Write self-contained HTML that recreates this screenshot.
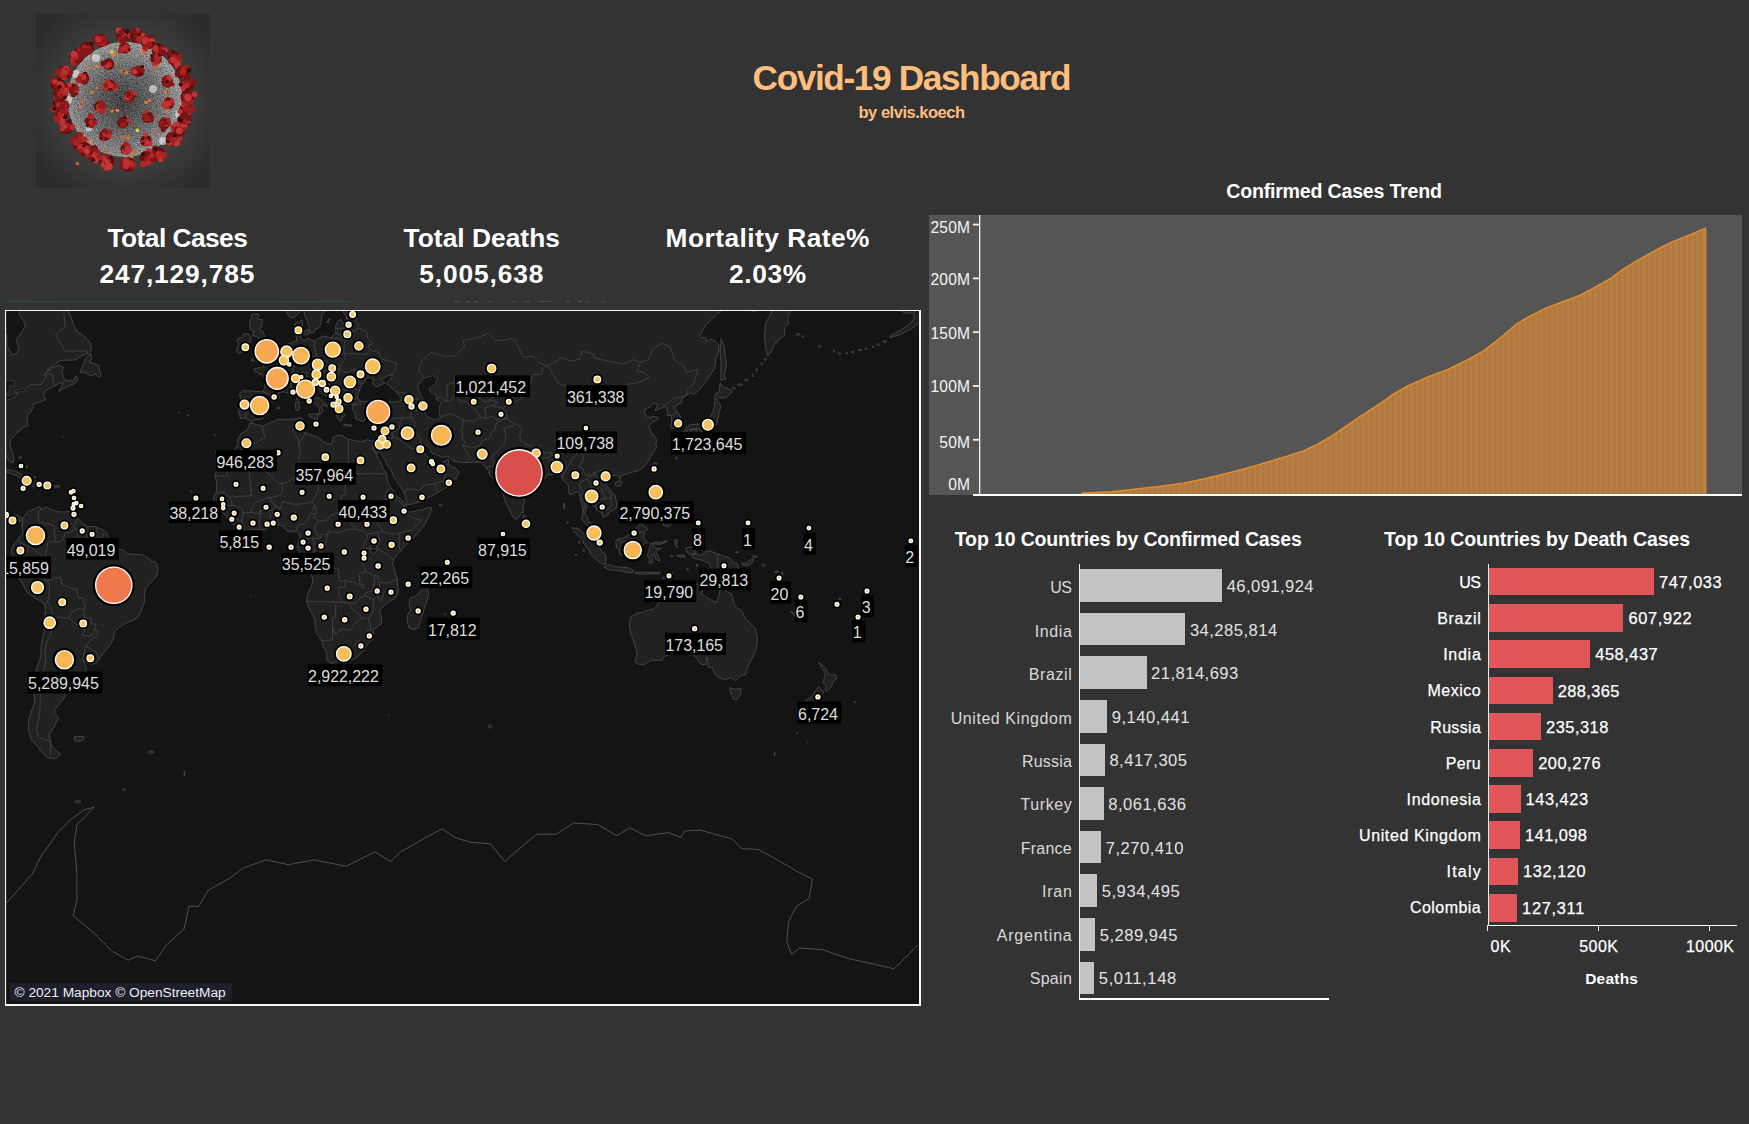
<!DOCTYPE html>
<html lang="en"><head><meta charset="utf-8"><title>Covid-19 Dashboard</title>
<style>
html,body{margin:0;padding:0;background:#333333;}
body{width:1749px;height:1124px;position:relative;overflow:hidden;font-family:"Liberation Sans",sans-serif;color:#fff;}
.t{position:absolute;white-space:nowrap;margin:0;padding:0;}
svg{position:absolute;display:block;}
.hr1{position:absolute;left:5px;top:301px;width:346px;height:1px;}
.dashes i{position:absolute;top:301px;height:1px;background:#4d4d4d;display:block;}
.hr1{background:linear-gradient(90deg,#2f4850,#30482f 30%,#30482f 60%,#2f4850);}
</style></head><body>

<svg id="logo" style="left:36px;top:14px" width="174" height="174" viewBox="0 0 174 174">
<defs>
<radialGradient id="lbg" cx="0.51" cy="0.5" r="0.62"><stop offset="0" stop-color="#4a4846"/><stop offset="0.55" stop-color="#413f3e"/><stop offset="0.8" stop-color="#343434"/><stop offset="1" stop-color="#2b2b2b"/></radialGradient>
<radialGradient id="lsp" cx="0.48" cy="0.52" r="0.55"><stop offset="0" stop-color="#3a3a3a"/><stop offset="0.45" stop-color="#646464"/><stop offset="0.8" stop-color="#8e8e8e"/><stop offset="1" stop-color="#b0b0b0"/></radialGradient>
<filter id="grain" x="0" y="0" width="1" height="1"><feTurbulence type="fractalNoise" baseFrequency="0.85" numOctaves="2" seed="3" result="n"/><feColorMatrix in="n" type="matrix" values="0 0 0 0 1  0 0 0 0 1  0 0 0 0 1  1.6 0 0 0 -0.62"/><feComposite in2="SourceGraphic" operator="in"/></filter>
<filter id="grain2" x="0" y="0" width="1" height="1"><feTurbulence type="fractalNoise" baseFrequency="0.7" numOctaves="2" seed="11" result="n"/><feColorMatrix in="n" type="matrix" values="0 0 0 0 0  0 0 0 0 0  0 0 0 0 0  0 1.8 0 0 -0.72"/><feComposite in2="SourceGraphic" operator="in"/></filter>
<filter id="soft"><feGaussianBlur stdDeviation="0.45"/></filter>
</defs>
<rect width="174" height="174" fill="url(#lbg)"/>
<g filter="url(#soft)">
<circle cx="89" cy="85.5" r="57.5" fill="url(#lsp)"/>
<circle cx="89" cy="85.5" r="57" fill="#fff" filter="url(#grain)" opacity="0.38"/>
<circle cx="89" cy="85.5" r="57" fill="#000" filter="url(#grain2)" opacity="0.55"/>
<circle cx="117" cy="75" r="4" fill="#ededed" opacity="0.6"/>
<circle cx="32" cy="86" r="4" fill="#ededed" opacity="0.6"/>
<circle cx="53" cy="114" r="3.5" fill="#ededed" opacity="0.6"/>
<circle cx="127" cy="127" r="4" fill="#ededed" opacity="0.6"/>
<circle cx="144" cy="100" r="5" fill="#ededed" opacity="0.6"/>
<circle cx="40" cy="60" r="4" fill="#ededed" opacity="0.6"/>
<circle cx="60" cy="44" r="4" fill="#ededed" opacity="0.6"/>
<rect x="53.2" y="32.6" width="3.2" height="2.8" rx="0.8" fill="#f08038"/>
<rect x="51.4" y="52.2" width="3.2" height="2.8" rx="0.8" fill="#e8702e"/>
<rect x="59.4" y="51.3" width="3.2" height="2.8" rx="0.8" fill="#f08038"/>
<rect x="83.4" y="54.9" width="3.2" height="2.8" rx="0.8" fill="#d9602a"/>
<rect x="88.7" y="57.6" width="3.2" height="2.8" rx="0.8" fill="#e8702e"/>
<rect x="104.7" y="36.2" width="3.2" height="2.8" rx="0.8" fill="#e8702e"/>
<rect x="119.0" y="52.2" width="3.2" height="2.8" rx="0.8" fill="#d9602a"/>
<rect x="140.4" y="52.2" width="3.2" height="2.8" rx="0.8" fill="#e8702e"/>
<rect x="140.4" y="57.6" width="3.2" height="2.8" rx="0.8" fill="#f08038"/>
<rect x="59.4" y="72.6" width="3.2" height="2.8" rx="0.8" fill="#d9602a"/>
<rect x="54.9" y="77.1" width="3.2" height="2.8" rx="0.8" fill="#e8702e"/>
<rect x="44.3" y="86.0" width="3.2" height="2.8" rx="0.8" fill="#d9602a"/>
<rect x="42.4" y="91.4" width="3.2" height="2.8" rx="0.8" fill="#e8702e"/>
<rect x="25.6" y="81.6" width="3.2" height="2.8" rx="0.8" fill="#e8702e"/>
<rect x="74.5" y="95.8" width="3.2" height="2.8" rx="0.8" fill="#e8702e"/>
<rect x="79.8" y="94.9" width="3.2" height="2.8" rx="0.8" fill="#f08038"/>
<rect x="108.4" y="86.9" width="3.2" height="2.8" rx="0.8" fill="#f08038"/>
<rect x="111.9" y="85.1" width="3.2" height="2.8" rx="0.8" fill="#e8702e"/>
<rect x="127.9" y="77.1" width="3.2" height="2.8" rx="0.8" fill="#e8702e"/>
<rect x="128.8" y="95.8" width="3.2" height="2.8" rx="0.8" fill="#e8702e"/>
<rect x="47.8" y="122.5" width="3.2" height="2.8" rx="0.8" fill="#d9602a"/>
<rect x="53.2" y="126.1" width="3.2" height="2.8" rx="0.8" fill="#f08038"/>
<rect x="49.6" y="132.3" width="3.2" height="2.8" rx="0.8" fill="#e8702e"/>
<rect x="85.2" y="121.6" width="3.2" height="2.8" rx="0.8" fill="#d9602a"/>
<rect x="90.5" y="122.5" width="3.2" height="2.8" rx="0.8" fill="#e8702e"/>
<rect x="94.1" y="141.2" width="3.2" height="2.8" rx="0.8" fill="#e8702e"/>
<rect x="97.6" y="136.7" width="3.2" height="2.8" rx="0.8" fill="#d9602a"/>
<rect x="69.2" y="135.8" width="3.2" height="2.8" rx="0.8" fill="#d9602a"/>
<rect x="119.0" y="117.2" width="3.2" height="2.8" rx="0.8" fill="#d9602a"/>
<rect x="30.0" y="107.4" width="3.2" height="2.8" rx="0.8" fill="#e8702e"/>
<rect x="39.8" y="148.3" width="3.2" height="2.8" rx="0.8" fill="#d9602a"/>
<rect x="107.4" y="37.6" width="3.2" height="2.8" rx="0.8" fill="#d9602a"/>
<rect x="76.4" y="39.6" width="3.2" height="2.8" rx="0.8" fill="#f08038"/>
<rect x="74.0" y="36.4" width="3.4" height="3.2" rx="0.8" fill="#e8d02e"/>
<rect x="99.7" y="114.8" width="3.4" height="3.2" rx="0.8" fill="#e8d02e"/>
<circle cx="72.5" cy="50.1" r="5.7" fill="#6a1111"/><circle cx="73.8" cy="50.5" r="2.6" fill="#b52a2a"/><circle cx="72.3" cy="50.9" r="2.0" fill="#741313"/><circle cx="68.7" cy="48.6" r="2.0" fill="#c43434"/><circle cx="70.2" cy="52.5" r="2.0" fill="#861818"/><circle cx="70.3" cy="48.1" r="1.8" fill="#3d0a0a"/><circle cx="67.1" cy="51.3" r="2.3" fill="#c43434"/><circle cx="73.7" cy="46.1" r="2.2" fill="#741313"/><circle cx="67.3" cy="49.3" r="2.8" fill="#741313"/><circle cx="72.2" cy="49.8" r="1.8" fill="#3d0a0a"/><circle cx="72.5" cy="49.2" r="2.5" fill="#861818"/><circle cx="73.0" cy="50.0" r="2.6" fill="#aa2525"/><circle cx="71.4" cy="51.9" r="2.5" fill="#bd3030"/>
<circle cx="88.6" cy="34.0" r="5.7" fill="#6a1111"/><circle cx="89.1" cy="34.2" r="2.2" fill="#9e2020"/><circle cx="92.5" cy="35.6" r="2.7" fill="#bd3030"/><circle cx="88.1" cy="36.3" r="2.7" fill="#861818"/><circle cx="90.6" cy="33.2" r="2.6" fill="#bd3030"/><circle cx="92.9" cy="35.7" r="1.4" fill="#3d0a0a"/><circle cx="84.2" cy="37.3" r="2.5" fill="#b52a2a"/><circle cx="85.5" cy="35.0" r="3.0" fill="#941c1c"/><circle cx="89.7" cy="32.7" r="2.4" fill="#aa2525"/><circle cx="87.7" cy="31.9" r="1.5" fill="#3d0a0a"/><circle cx="89.2" cy="35.2" r="2.2" fill="#bd3030"/><circle cx="89.1" cy="33.0" r="2.2" fill="#b52a2a"/><circle cx="86.7" cy="35.1" r="2.6" fill="#b52a2a"/>
<circle cx="102.8" cy="57.2" r="5.7" fill="#6a1111"/><circle cx="101.7" cy="54.3" r="2.6" fill="#861818"/><circle cx="97.8" cy="58.6" r="3.0" fill="#941c1c"/><circle cx="100.9" cy="58.6" r="2.5" fill="#941c1c"/><circle cx="103.2" cy="57.4" r="2.2" fill="#b52a2a"/><circle cx="105.6" cy="59.5" r="1.4" fill="#3d0a0a"/><circle cx="97.3" cy="55.9" r="2.6" fill="#9e2020"/><circle cx="105.4" cy="54.6" r="2.1" fill="#741313"/><circle cx="106.3" cy="56.2" r="2.5" fill="#9e2020"/><circle cx="106.3" cy="52.4" r="1.7" fill="#3d0a0a"/><circle cx="102.5" cy="58.0" r="2.8" fill="#741313"/><circle cx="98.7" cy="57.8" r="2.5" fill="#c43434"/><circle cx="105.8" cy="56.2" r="2.1" fill="#861818"/>
<circle cx="47.6" cy="64.3" r="5.7" fill="#6a1111"/><circle cx="47.7" cy="62.5" r="2.7" fill="#9e2020"/><circle cx="47.1" cy="62.8" r="2.3" fill="#b52a2a"/><circle cx="46.8" cy="65.4" r="2.5" fill="#aa2525"/><circle cx="45.2" cy="61.5" r="2.8" fill="#c43434"/><circle cx="49.3" cy="59.7" r="2.0" fill="#3d0a0a"/><circle cx="48.5" cy="67.1" r="2.8" fill="#861818"/><circle cx="48.3" cy="61.6" r="2.1" fill="#aa2525"/><circle cx="42.3" cy="66.1" r="3.1" fill="#aa2525"/><circle cx="48.1" cy="64.6" r="1.7" fill="#3d0a0a"/><circle cx="48.7" cy="67.9" r="3.0" fill="#861818"/><circle cx="43.7" cy="64.8" r="2.9" fill="#9e2020"/><circle cx="48.0" cy="63.7" r="2.4" fill="#c43434"/>
<circle cx="74.3" cy="71.4" r="5.7" fill="#6a1111"/><circle cx="73.2" cy="71.5" r="2.8" fill="#aa2525"/><circle cx="79.2" cy="74.3" r="2.8" fill="#bd3030"/><circle cx="69.7" cy="74.7" r="2.8" fill="#b52a2a"/><circle cx="74.5" cy="71.4" r="2.6" fill="#bd3030"/><circle cx="74.6" cy="70.6" r="2.0" fill="#3d0a0a"/><circle cx="73.1" cy="69.6" r="2.6" fill="#b52a2a"/><circle cx="79.1" cy="72.0" r="2.8" fill="#9e2020"/><circle cx="68.8" cy="70.5" r="2.4" fill="#c43434"/><circle cx="74.9" cy="70.3" r="1.5" fill="#3d0a0a"/><circle cx="69.7" cy="71.4" r="2.3" fill="#941c1c"/><circle cx="74.5" cy="71.1" r="2.8" fill="#bd3030"/><circle cx="71.7" cy="67.2" r="2.5" fill="#b52a2a"/>
<circle cx="93.9" cy="82.1" r="5.7" fill="#6a1111"/><circle cx="90.8" cy="81.5" r="1.9" fill="#bd3030"/><circle cx="94.5" cy="78.5" r="2.8" fill="#b52a2a"/><circle cx="95.2" cy="84.6" r="2.8" fill="#861818"/><circle cx="92.5" cy="84.9" r="2.6" fill="#9e2020"/><circle cx="94.2" cy="81.9" r="1.5" fill="#3d0a0a"/><circle cx="94.3" cy="79.1" r="2.6" fill="#9e2020"/><circle cx="90.5" cy="83.4" r="2.5" fill="#c43434"/><circle cx="92.9" cy="79.6" r="2.5" fill="#bd3030"/><circle cx="92.4" cy="82.0" r="1.8" fill="#3d0a0a"/><circle cx="98.6" cy="79.6" r="2.1" fill="#bd3030"/><circle cx="94.4" cy="82.7" r="2.4" fill="#9e2020"/><circle cx="92.7" cy="79.8" r="2.2" fill="#741313"/>
<circle cx="63.6" cy="92.8" r="5.7" fill="#6a1111"/><circle cx="64.7" cy="87.5" r="2.1" fill="#aa2525"/><circle cx="66.9" cy="96.9" r="3.1" fill="#c43434"/><circle cx="63.6" cy="92.2" r="3.0" fill="#b52a2a"/><circle cx="68.6" cy="92.5" r="2.1" fill="#941c1c"/><circle cx="66.0" cy="92.7" r="1.7" fill="#3d0a0a"/><circle cx="61.8" cy="96.7" r="1.9" fill="#bd3030"/><circle cx="63.5" cy="92.8" r="2.3" fill="#741313"/><circle cx="63.2" cy="92.8" r="3.1" fill="#c43434"/><circle cx="64.2" cy="92.7" r="1.6" fill="#3d0a0a"/><circle cx="64.5" cy="92.2" r="2.8" fill="#941c1c"/><circle cx="66.0" cy="89.5" r="3.0" fill="#941c1c"/><circle cx="66.9" cy="97.2" r="2.6" fill="#aa2525"/>
<circle cx="86.8" cy="108.8" r="5.7" fill="#6a1111"/><circle cx="87.1" cy="109.0" r="2.7" fill="#941c1c"/><circle cx="88.1" cy="107.8" r="1.9" fill="#9e2020"/><circle cx="87.0" cy="108.3" r="2.9" fill="#9e2020"/><circle cx="86.7" cy="109.5" r="1.9" fill="#941c1c"/><circle cx="88.2" cy="108.1" r="1.4" fill="#3d0a0a"/><circle cx="92.2" cy="106.6" r="2.2" fill="#b52a2a"/><circle cx="87.4" cy="110.6" r="2.3" fill="#c43434"/><circle cx="86.1" cy="111.7" r="2.1" fill="#aa2525"/><circle cx="88.8" cy="103.2" r="1.4" fill="#3d0a0a"/><circle cx="86.4" cy="105.5" r="2.1" fill="#bd3030"/><circle cx="86.9" cy="111.5" r="2.7" fill="#941c1c"/><circle cx="85.0" cy="106.1" r="3.0" fill="#741313"/>
<circle cx="111.7" cy="103.4" r="5.7" fill="#6a1111"/><circle cx="109.5" cy="98.0" r="2.3" fill="#b52a2a"/><circle cx="110.0" cy="104.6" r="2.0" fill="#b52a2a"/><circle cx="115.4" cy="103.7" r="3.0" fill="#941c1c"/><circle cx="112.0" cy="103.8" r="2.9" fill="#741313"/><circle cx="108.3" cy="101.0" r="1.4" fill="#3d0a0a"/><circle cx="113.2" cy="105.6" r="2.2" fill="#aa2525"/><circle cx="114.9" cy="102.8" r="2.2" fill="#741313"/><circle cx="111.9" cy="104.5" r="2.3" fill="#9e2020"/><circle cx="108.7" cy="103.9" r="1.5" fill="#3d0a0a"/><circle cx="115.8" cy="106.0" r="2.1" fill="#861818"/><circle cx="110.3" cy="104.5" r="2.7" fill="#9e2020"/><circle cx="109.0" cy="101.8" r="2.8" fill="#941c1c"/>
<circle cx="131.3" cy="67.9" r="5.7" fill="#6a1111"/><circle cx="131.7" cy="63.6" r="2.5" fill="#741313"/><circle cx="130.7" cy="64.1" r="2.0" fill="#941c1c"/><circle cx="130.8" cy="63.1" r="2.1" fill="#861818"/><circle cx="132.9" cy="64.8" r="3.0" fill="#c43434"/><circle cx="131.5" cy="68.0" r="1.9" fill="#3d0a0a"/><circle cx="129.4" cy="69.8" r="2.0" fill="#861818"/><circle cx="128.4" cy="65.0" r="2.5" fill="#861818"/><circle cx="130.9" cy="68.0" r="3.0" fill="#9e2020"/><circle cx="131.1" cy="67.6" r="1.9" fill="#3d0a0a"/><circle cx="133.1" cy="63.2" r="2.2" fill="#c43434"/><circle cx="131.8" cy="71.8" r="2.5" fill="#941c1c"/><circle cx="136.1" cy="70.4" r="2.2" fill="#861818"/>
<circle cx="133.0" cy="89.2" r="5.7" fill="#6a1111"/><circle cx="130.1" cy="86.6" r="2.0" fill="#b52a2a"/><circle cx="131.1" cy="92.6" r="2.7" fill="#b52a2a"/><circle cx="133.4" cy="89.2" r="2.2" fill="#9e2020"/><circle cx="131.6" cy="85.4" r="2.2" fill="#741313"/><circle cx="130.3" cy="89.8" r="1.4" fill="#3d0a0a"/><circle cx="132.8" cy="89.7" r="2.5" fill="#741313"/><circle cx="128.2" cy="90.5" r="3.1" fill="#bd3030"/><circle cx="135.3" cy="89.1" r="3.0" fill="#c43434"/><circle cx="133.5" cy="89.4" r="2.0" fill="#3d0a0a"/><circle cx="133.8" cy="89.0" r="2.9" fill="#741313"/><circle cx="136.2" cy="86.4" r="2.2" fill="#bd3030"/><circle cx="132.2" cy="89.8" r="3.0" fill="#bd3030"/>
<circle cx="69.0" cy="121.2" r="5.7" fill="#6a1111"/><circle cx="65.4" cy="123.6" r="2.4" fill="#941c1c"/><circle cx="67.0" cy="125.8" r="1.9" fill="#aa2525"/><circle cx="69.4" cy="120.6" r="3.0" fill="#861818"/><circle cx="70.4" cy="120.2" r="2.3" fill="#941c1c"/><circle cx="65.0" cy="124.5" r="1.4" fill="#3d0a0a"/><circle cx="69.2" cy="116.1" r="2.2" fill="#861818"/><circle cx="69.9" cy="119.7" r="3.0" fill="#c43434"/><circle cx="71.6" cy="120.7" r="2.3" fill="#aa2525"/><circle cx="69.6" cy="118.7" r="1.4" fill="#3d0a0a"/><circle cx="73.8" cy="118.3" r="2.6" fill="#9e2020"/><circle cx="73.2" cy="122.5" r="2.4" fill="#b52a2a"/><circle cx="67.9" cy="119.8" r="2.0" fill="#b52a2a"/>
<circle cx="109.9" cy="126.6" r="5.7" fill="#6a1111"/><circle cx="111.1" cy="128.8" r="2.2" fill="#741313"/><circle cx="109.5" cy="120.8" r="2.2" fill="#c43434"/><circle cx="108.8" cy="129.8" r="2.4" fill="#b52a2a"/><circle cx="109.6" cy="126.2" r="2.5" fill="#bd3030"/><circle cx="107.3" cy="125.8" r="1.6" fill="#3d0a0a"/><circle cx="106.9" cy="128.0" r="2.2" fill="#b52a2a"/><circle cx="109.6" cy="127.1" r="2.2" fill="#741313"/><circle cx="110.3" cy="125.5" r="1.9" fill="#941c1c"/><circle cx="106.6" cy="129.6" r="1.5" fill="#3d0a0a"/><circle cx="109.7" cy="126.9" r="2.2" fill="#aa2525"/><circle cx="112.0" cy="128.7" r="2.7" fill="#c43434"/><circle cx="114.4" cy="129.6" r="2.4" fill="#bd3030"/>
<circle cx="37.0" cy="75.0" r="5.7" fill="#6a1111"/><circle cx="35.3" cy="75.8" r="2.9" fill="#861818"/><circle cx="38.8" cy="76.8" r="2.8" fill="#bd3030"/><circle cx="39.9" cy="74.4" r="2.0" fill="#bd3030"/><circle cx="38.5" cy="74.7" r="2.0" fill="#b52a2a"/><circle cx="40.4" cy="79.8" r="1.4" fill="#3d0a0a"/><circle cx="41.0" cy="77.4" r="1.9" fill="#b52a2a"/><circle cx="37.6" cy="80.5" r="2.7" fill="#741313"/><circle cx="40.7" cy="74.1" r="2.5" fill="#941c1c"/><circle cx="36.8" cy="74.4" r="1.4" fill="#3d0a0a"/><circle cx="36.0" cy="75.9" r="2.6" fill="#861818"/><circle cx="31.2" cy="73.6" r="2.2" fill="#aa2525"/><circle cx="33.7" cy="70.8" r="2.5" fill="#c43434"/>
<circle cx="120.0" cy="45.0" r="5.7" fill="#6a1111"/><circle cx="119.8" cy="44.9" r="2.4" fill="#741313"/><circle cx="121.1" cy="45.4" r="3.0" fill="#941c1c"/><circle cx="121.2" cy="45.7" r="2.4" fill="#aa2525"/><circle cx="120.0" cy="45.2" r="2.3" fill="#941c1c"/><circle cx="118.5" cy="46.8" r="1.3" fill="#3d0a0a"/><circle cx="119.8" cy="42.0" r="2.1" fill="#c43434"/><circle cx="118.1" cy="49.6" r="2.2" fill="#c43434"/><circle cx="119.5" cy="50.3" r="2.0" fill="#bd3030"/><circle cx="115.9" cy="41.6" r="1.7" fill="#3d0a0a"/><circle cx="120.8" cy="44.7" r="2.4" fill="#c43434"/><circle cx="123.5" cy="45.5" r="2.4" fill="#861818"/><circle cx="121.1" cy="47.5" r="2.8" fill="#aa2525"/>
<circle cx="55.0" cy="108.0" r="5.7" fill="#6a1111"/><circle cx="54.4" cy="102.1" r="3.0" fill="#aa2525"/><circle cx="56.4" cy="111.6" r="2.5" fill="#bd3030"/><circle cx="58.9" cy="108.8" r="2.4" fill="#aa2525"/><circle cx="57.6" cy="107.7" r="2.0" fill="#9e2020"/><circle cx="54.6" cy="110.1" r="2.1" fill="#3d0a0a"/><circle cx="50.8" cy="106.3" r="2.4" fill="#741313"/><circle cx="56.1" cy="105.7" r="2.0" fill="#bd3030"/><circle cx="56.1" cy="111.1" r="2.4" fill="#aa2525"/><circle cx="51.5" cy="112.1" r="1.4" fill="#3d0a0a"/><circle cx="55.0" cy="111.8" r="2.4" fill="#941c1c"/><circle cx="55.4" cy="108.1" r="3.0" fill="#741313"/><circle cx="55.1" cy="108.4" r="2.6" fill="#aa2525"/>
<circle cx="128.0" cy="110.0" r="5.7" fill="#6a1111"/><circle cx="127.2" cy="115.7" r="2.6" fill="#741313"/><circle cx="127.9" cy="105.9" r="3.0" fill="#741313"/><circle cx="132.5" cy="110.1" r="3.0" fill="#9e2020"/><circle cx="129.4" cy="110.2" r="2.5" fill="#bd3030"/><circle cx="130.2" cy="109.3" r="1.5" fill="#3d0a0a"/><circle cx="128.3" cy="109.3" r="2.5" fill="#861818"/><circle cx="129.4" cy="105.8" r="2.9" fill="#b52a2a"/><circle cx="126.5" cy="108.8" r="2.3" fill="#aa2525"/><circle cx="128.8" cy="106.5" r="1.8" fill="#3d0a0a"/><circle cx="128.0" cy="108.5" r="2.0" fill="#861818"/><circle cx="124.8" cy="110.4" r="2.1" fill="#941c1c"/><circle cx="132.4" cy="106.0" r="2.2" fill="#9e2020"/>
<circle cx="90.0" cy="135.0" r="5.7" fill="#6a1111"/><circle cx="90.7" cy="137.4" r="3.1" fill="#bd3030"/><circle cx="90.4" cy="135.7" r="2.5" fill="#c43434"/><circle cx="89.9" cy="129.9" r="2.7" fill="#9e2020"/><circle cx="90.3" cy="133.3" r="2.2" fill="#741313"/><circle cx="86.9" cy="138.2" r="1.5" fill="#3d0a0a"/><circle cx="90.6" cy="136.3" r="2.2" fill="#c43434"/><circle cx="88.9" cy="137.1" r="3.1" fill="#c43434"/><circle cx="89.6" cy="134.5" r="2.5" fill="#861818"/><circle cx="92.3" cy="136.7" r="2.0" fill="#3d0a0a"/><circle cx="90.2" cy="134.9" r="2.3" fill="#9e2020"/><circle cx="93.4" cy="136.1" r="2.9" fill="#c43434"/><circle cx="92.0" cy="134.1" r="2.9" fill="#bd3030"/>
<circle cx="64.6" cy="26.6" r="7.0" fill="#6a1111"/><circle cx="60.0" cy="23.2" r="3.1" fill="#861818"/><circle cx="68.0" cy="29.3" r="3.0" fill="#c43434"/><circle cx="67.0" cy="27.2" r="2.2" fill="#741313"/><circle cx="69.8" cy="27.9" r="3.5" fill="#861818"/><circle cx="65.8" cy="23.9" r="2.7" fill="#741313"/><circle cx="64.8" cy="26.7" r="2.0" fill="#3d0a0a"/><circle cx="65.3" cy="26.9" r="2.7" fill="#b52a2a"/><circle cx="64.1" cy="26.1" r="2.3" fill="#741313"/><circle cx="62.8" cy="27.7" r="2.6" fill="#861818"/><circle cx="63.0" cy="30.5" r="2.6" fill="#941c1c"/><circle cx="70.2" cy="27.3" r="2.3" fill="#3d0a0a"/><circle cx="62.2" cy="28.5" r="3.5" fill="#941c1c"/><circle cx="67.1" cy="24.8" r="3.3" fill="#941c1c"/><circle cx="62.2" cy="25.3" r="3.3" fill="#b52a2a"/><circle cx="68.6" cy="27.0" r="3.1" fill="#941c1c"/>
<circle cx="86.9" cy="21.4" r="7.0" fill="#6a1111"/><circle cx="90.8" cy="23.8" r="2.7" fill="#b52a2a"/><circle cx="88.2" cy="23.1" r="2.9" fill="#9e2020"/><circle cx="89.7" cy="23.7" r="3.3" fill="#c43434"/><circle cx="84.9" cy="27.3" r="2.2" fill="#bd3030"/><circle cx="85.1" cy="25.5" r="3.1" fill="#9e2020"/><circle cx="90.7" cy="18.8" r="2.3" fill="#3d0a0a"/><circle cx="82.9" cy="16.5" r="3.0" fill="#c43434"/><circle cx="87.5" cy="20.2" r="2.4" fill="#941c1c"/><circle cx="88.0" cy="21.0" r="2.6" fill="#b52a2a"/><circle cx="87.0" cy="26.8" r="3.4" fill="#861818"/><circle cx="91.5" cy="17.2" r="2.2" fill="#3d0a0a"/><circle cx="90.2" cy="24.4" r="2.9" fill="#741313"/><circle cx="85.5" cy="19.6" r="2.5" fill="#941c1c"/><circle cx="85.1" cy="18.6" r="2.8" fill="#861818"/><circle cx="94.2" cy="21.6" r="2.8" fill="#bd3030"/>
<circle cx="100.6" cy="22.3" r="7.0" fill="#6a1111"/><circle cx="101.0" cy="16.5" r="2.8" fill="#b52a2a"/><circle cx="101.7" cy="19.5" r="2.2" fill="#aa2525"/><circle cx="99.9" cy="22.5" r="2.8" fill="#861818"/><circle cx="101.5" cy="22.5" r="3.5" fill="#aa2525"/><circle cx="101.2" cy="18.5" r="2.2" fill="#941c1c"/><circle cx="97.2" cy="17.5" r="1.5" fill="#3d0a0a"/><circle cx="106.0" cy="22.1" r="3.3" fill="#c43434"/><circle cx="105.0" cy="27.1" r="2.5" fill="#b52a2a"/><circle cx="98.5" cy="17.3" r="2.4" fill="#aa2525"/><circle cx="99.1" cy="21.1" r="2.6" fill="#741313"/><circle cx="103.3" cy="20.4" r="1.7" fill="#3d0a0a"/><circle cx="101.1" cy="24.1" r="2.9" fill="#aa2525"/><circle cx="99.5" cy="23.3" r="2.7" fill="#741313"/><circle cx="97.7" cy="16.3" r="2.4" fill="#741313"/><circle cx="103.5" cy="24.9" r="3.1" fill="#aa2525"/>
<circle cx="122.7" cy="36.1" r="7.0" fill="#6a1111"/><circle cx="126.0" cy="35.4" r="2.9" fill="#9e2020"/><circle cx="122.6" cy="40.0" r="3.4" fill="#aa2525"/><circle cx="122.0" cy="43.4" r="3.0" fill="#aa2525"/><circle cx="122.4" cy="36.6" r="2.4" fill="#861818"/><circle cx="121.6" cy="39.7" r="2.6" fill="#aa2525"/><circle cx="122.1" cy="30.6" r="1.7" fill="#3d0a0a"/><circle cx="120.3" cy="33.9" r="2.9" fill="#861818"/><circle cx="123.8" cy="37.3" r="3.1" fill="#861818"/><circle cx="126.6" cy="37.5" r="2.6" fill="#aa2525"/><circle cx="119.7" cy="35.4" r="2.6" fill="#b52a2a"/><circle cx="124.0" cy="40.5" r="2.0" fill="#3d0a0a"/><circle cx="128.6" cy="36.6" r="3.2" fill="#bd3030"/><circle cx="126.6" cy="38.7" r="3.4" fill="#741313"/><circle cx="121.1" cy="37.2" r="2.1" fill="#aa2525"/><circle cx="119.1" cy="33.7" r="3.0" fill="#bd3030"/>
<circle cx="138.3" cy="44.5" r="7.0" fill="#6a1111"/><circle cx="138.3" cy="51.2" r="2.2" fill="#861818"/><circle cx="136.8" cy="45.5" r="2.2" fill="#9e2020"/><circle cx="142.3" cy="44.8" r="3.5" fill="#b52a2a"/><circle cx="135.0" cy="46.5" r="3.1" fill="#941c1c"/><circle cx="138.8" cy="43.3" r="2.6" fill="#741313"/><circle cx="133.1" cy="39.3" r="2.2" fill="#3d0a0a"/><circle cx="138.3" cy="44.5" r="3.4" fill="#bd3030"/><circle cx="142.5" cy="46.8" r="2.4" fill="#9e2020"/><circle cx="137.9" cy="49.3" r="2.3" fill="#741313"/><circle cx="137.8" cy="42.6" r="2.9" fill="#941c1c"/><circle cx="135.6" cy="38.3" r="2.5" fill="#3d0a0a"/><circle cx="133.8" cy="38.9" r="2.4" fill="#861818"/><circle cx="141.5" cy="50.4" r="3.4" fill="#c43434"/><circle cx="143.5" cy="42.6" r="2.6" fill="#941c1c"/><circle cx="137.4" cy="46.1" r="3.5" fill="#bd3030"/>
<circle cx="146.7" cy="58.3" r="7.0" fill="#6a1111"/><circle cx="142.9" cy="59.0" r="2.1" fill="#861818"/><circle cx="141.8" cy="60.3" r="3.0" fill="#741313"/><circle cx="147.4" cy="55.5" r="3.0" fill="#b52a2a"/><circle cx="146.9" cy="58.4" r="2.3" fill="#b52a2a"/><circle cx="146.1" cy="59.1" r="2.1" fill="#861818"/><circle cx="149.8" cy="61.9" r="1.5" fill="#3d0a0a"/><circle cx="146.7" cy="57.8" r="3.0" fill="#aa2525"/><circle cx="149.0" cy="65.0" r="2.9" fill="#9e2020"/><circle cx="150.8" cy="54.4" r="3.2" fill="#941c1c"/><circle cx="147.9" cy="59.2" r="2.3" fill="#861818"/><circle cx="153.1" cy="56.2" r="2.3" fill="#3d0a0a"/><circle cx="148.9" cy="54.1" r="2.5" fill="#9e2020"/><circle cx="150.7" cy="62.6" r="3.1" fill="#741313"/><circle cx="145.4" cy="61.1" r="2.1" fill="#741313"/><circle cx="147.1" cy="58.1" r="3.2" fill="#aa2525"/>
<circle cx="152.0" cy="70.2" r="7.0" fill="#6a1111"/><circle cx="152.5" cy="65.8" r="2.8" fill="#741313"/><circle cx="151.8" cy="70.0" r="2.7" fill="#941c1c"/><circle cx="151.2" cy="70.1" r="2.8" fill="#861818"/><circle cx="150.4" cy="69.8" r="3.4" fill="#9e2020"/><circle cx="150.1" cy="69.2" r="2.8" fill="#c43434"/><circle cx="150.6" cy="75.6" r="1.5" fill="#3d0a0a"/><circle cx="148.3" cy="70.4" r="3.3" fill="#b52a2a"/><circle cx="156.3" cy="69.3" r="3.5" fill="#741313"/><circle cx="150.9" cy="69.6" r="3.3" fill="#c43434"/><circle cx="151.2" cy="70.2" r="3.1" fill="#9e2020"/><circle cx="144.7" cy="70.6" r="2.1" fill="#3d0a0a"/><circle cx="150.1" cy="68.3" r="2.7" fill="#941c1c"/><circle cx="156.3" cy="66.7" r="2.7" fill="#861818"/><circle cx="150.4" cy="71.8" r="2.7" fill="#b52a2a"/><circle cx="147.2" cy="74.7" r="2.5" fill="#bd3030"/>
<circle cx="150.1" cy="95.9" r="7.0" fill="#6a1111"/><circle cx="153.2" cy="99.0" r="3.1" fill="#861818"/><circle cx="148.7" cy="97.9" r="2.3" fill="#bd3030"/><circle cx="147.3" cy="91.2" r="2.4" fill="#bd3030"/><circle cx="149.4" cy="94.1" r="2.4" fill="#aa2525"/><circle cx="143.8" cy="97.4" r="2.5" fill="#c43434"/><circle cx="149.5" cy="101.4" r="2.3" fill="#3d0a0a"/><circle cx="148.9" cy="88.8" r="3.2" fill="#aa2525"/><circle cx="151.4" cy="97.9" r="2.4" fill="#9e2020"/><circle cx="152.6" cy="100.1" r="2.4" fill="#b52a2a"/><circle cx="156.0" cy="95.3" r="3.2" fill="#941c1c"/><circle cx="150.0" cy="96.7" r="2.4" fill="#3d0a0a"/><circle cx="150.9" cy="98.6" r="2.2" fill="#941c1c"/><circle cx="152.1" cy="93.3" r="2.4" fill="#741313"/><circle cx="149.1" cy="96.1" r="3.0" fill="#941c1c"/><circle cx="151.9" cy="95.9" r="3.4" fill="#941c1c"/>
<circle cx="148.4" cy="106.2" r="7.0" fill="#6a1111"/><circle cx="151.2" cy="102.1" r="3.1" fill="#c43434"/><circle cx="146.4" cy="101.9" r="2.8" fill="#aa2525"/><circle cx="148.1" cy="111.4" r="3.4" fill="#c43434"/><circle cx="149.5" cy="101.0" r="3.0" fill="#741313"/><circle cx="150.5" cy="103.3" r="2.1" fill="#941c1c"/><circle cx="143.6" cy="105.6" r="2.4" fill="#3d0a0a"/><circle cx="148.9" cy="103.3" r="2.8" fill="#9e2020"/><circle cx="152.3" cy="107.1" r="2.3" fill="#c43434"/><circle cx="147.7" cy="106.1" r="3.0" fill="#c43434"/><circle cx="147.7" cy="102.5" r="3.1" fill="#aa2525"/><circle cx="145.4" cy="105.8" r="2.5" fill="#3d0a0a"/><circle cx="149.8" cy="106.1" r="2.9" fill="#9e2020"/><circle cx="147.8" cy="101.7" r="3.1" fill="#741313"/><circle cx="148.0" cy="109.1" r="2.1" fill="#941c1c"/><circle cx="152.4" cy="103.8" r="3.1" fill="#741313"/>
<circle cx="136.5" cy="125.0" r="7.0" fill="#6a1111"/><circle cx="138.2" cy="126.4" r="2.7" fill="#c43434"/><circle cx="143.6" cy="124.7" r="2.8" fill="#b52a2a"/><circle cx="140.4" cy="129.2" r="3.3" fill="#c43434"/><circle cx="132.4" cy="125.8" r="2.4" fill="#b52a2a"/><circle cx="133.6" cy="128.8" r="3.3" fill="#941c1c"/><circle cx="134.3" cy="125.4" r="2.0" fill="#3d0a0a"/><circle cx="137.1" cy="121.6" r="3.3" fill="#c43434"/><circle cx="136.2" cy="127.8" r="2.5" fill="#941c1c"/><circle cx="134.9" cy="121.8" r="3.3" fill="#741313"/><circle cx="133.4" cy="128.8" r="2.6" fill="#bd3030"/><circle cx="132.2" cy="127.0" r="2.2" fill="#3d0a0a"/><circle cx="137.8" cy="126.8" r="2.7" fill="#9e2020"/><circle cx="139.6" cy="119.1" r="3.3" fill="#b52a2a"/><circle cx="134.0" cy="124.5" r="3.0" fill="#861818"/><circle cx="136.6" cy="125.5" r="2.5" fill="#9e2020"/>
<circle cx="122.8" cy="140.5" r="7.0" fill="#6a1111"/><circle cx="117.2" cy="137.5" r="2.4" fill="#bd3030"/><circle cx="122.1" cy="141.4" r="3.5" fill="#b52a2a"/><circle cx="118.9" cy="137.2" r="3.6" fill="#9e2020"/><circle cx="119.5" cy="134.7" r="3.3" fill="#741313"/><circle cx="124.5" cy="145.3" r="2.9" fill="#bd3030"/><circle cx="122.4" cy="139.7" r="1.6" fill="#3d0a0a"/><circle cx="122.9" cy="141.5" r="2.8" fill="#861818"/><circle cx="116.1" cy="141.1" r="3.2" fill="#c43434"/><circle cx="118.8" cy="140.5" r="3.4" fill="#861818"/><circle cx="124.1" cy="142.5" r="3.1" fill="#bd3030"/><circle cx="119.6" cy="135.1" r="1.9" fill="#3d0a0a"/><circle cx="127.8" cy="140.5" r="2.4" fill="#aa2525"/><circle cx="122.7" cy="140.3" r="3.0" fill="#aa2525"/><circle cx="123.0" cy="139.8" r="2.8" fill="#b52a2a"/><circle cx="128.0" cy="141.6" r="3.0" fill="#aa2525"/>
<circle cx="110.8" cy="143.8" r="7.0" fill="#6a1111"/><circle cx="114.9" cy="146.5" r="2.6" fill="#c43434"/><circle cx="110.3" cy="146.2" r="2.5" fill="#861818"/><circle cx="111.8" cy="141.8" r="3.3" fill="#941c1c"/><circle cx="107.2" cy="150.1" r="3.4" fill="#aa2525"/><circle cx="115.6" cy="143.0" r="3.3" fill="#aa2525"/><circle cx="112.7" cy="148.7" r="1.6" fill="#3d0a0a"/><circle cx="110.9" cy="143.5" r="3.2" fill="#941c1c"/><circle cx="110.5" cy="143.7" r="2.6" fill="#861818"/><circle cx="116.6" cy="145.5" r="2.8" fill="#861818"/><circle cx="112.5" cy="137.2" r="3.0" fill="#b52a2a"/><circle cx="107.2" cy="140.1" r="2.1" fill="#3d0a0a"/><circle cx="112.0" cy="148.6" r="2.8" fill="#b52a2a"/><circle cx="111.9" cy="144.6" r="2.2" fill="#9e2020"/><circle cx="115.0" cy="141.3" r="2.7" fill="#b52a2a"/><circle cx="111.8" cy="139.7" r="2.5" fill="#741313"/>
<circle cx="92.0" cy="150.8" r="7.0" fill="#6a1111"/><circle cx="92.1" cy="151.0" r="2.1" fill="#861818"/><circle cx="88.1" cy="150.9" r="3.3" fill="#941c1c"/><circle cx="85.9" cy="147.7" r="2.8" fill="#861818"/><circle cx="90.1" cy="146.8" r="3.6" fill="#b52a2a"/><circle cx="89.0" cy="151.3" r="2.3" fill="#bd3030"/><circle cx="92.2" cy="151.9" r="1.5" fill="#3d0a0a"/><circle cx="96.9" cy="151.1" r="3.6" fill="#9e2020"/><circle cx="92.2" cy="151.7" r="2.8" fill="#741313"/><circle cx="91.6" cy="149.0" r="3.2" fill="#b52a2a"/><circle cx="94.4" cy="149.5" r="3.2" fill="#b52a2a"/><circle cx="91.9" cy="150.2" r="2.1" fill="#3d0a0a"/><circle cx="85.3" cy="152.5" r="2.5" fill="#861818"/><circle cx="92.0" cy="150.7" r="2.1" fill="#9e2020"/><circle cx="90.2" cy="152.3" r="3.0" fill="#bd3030"/><circle cx="90.2" cy="149.3" r="3.5" fill="#bd3030"/>
<circle cx="71.5" cy="147.3" r="7.0" fill="#6a1111"/><circle cx="70.3" cy="147.5" r="3.5" fill="#9e2020"/><circle cx="68.4" cy="150.9" r="3.0" fill="#941c1c"/><circle cx="65.8" cy="148.1" r="2.8" fill="#741313"/><circle cx="72.4" cy="143.2" r="2.5" fill="#861818"/><circle cx="68.0" cy="144.0" r="3.3" fill="#aa2525"/><circle cx="75.1" cy="143.4" r="1.5" fill="#3d0a0a"/><circle cx="69.6" cy="145.9" r="2.7" fill="#c43434"/><circle cx="67.9" cy="150.8" r="3.0" fill="#c43434"/><circle cx="72.2" cy="145.3" r="2.1" fill="#741313"/><circle cx="71.4" cy="148.5" r="3.5" fill="#861818"/><circle cx="71.2" cy="148.3" r="2.4" fill="#3d0a0a"/><circle cx="70.5" cy="153.5" r="3.3" fill="#bd3030"/><circle cx="71.1" cy="147.8" r="2.9" fill="#941c1c"/><circle cx="73.2" cy="152.6" r="3.5" fill="#c43434"/><circle cx="71.3" cy="147.7" r="2.7" fill="#c43434"/>
<circle cx="57.7" cy="140.4" r="7.0" fill="#6a1111"/><circle cx="61.6" cy="138.5" r="2.1" fill="#941c1c"/><circle cx="57.1" cy="140.6" r="3.3" fill="#9e2020"/><circle cx="58.2" cy="144.7" r="3.4" fill="#aa2525"/><circle cx="53.4" cy="141.1" r="2.4" fill="#c43434"/><circle cx="62.7" cy="143.7" r="2.5" fill="#aa2525"/><circle cx="54.6" cy="142.6" r="1.6" fill="#3d0a0a"/><circle cx="61.0" cy="138.7" r="3.4" fill="#aa2525"/><circle cx="53.8" cy="136.1" r="2.3" fill="#861818"/><circle cx="55.6" cy="143.6" r="2.1" fill="#861818"/><circle cx="59.5" cy="146.6" r="2.9" fill="#c43434"/><circle cx="57.3" cy="146.2" r="1.9" fill="#3d0a0a"/><circle cx="58.4" cy="134.4" r="3.5" fill="#741313"/><circle cx="59.1" cy="138.3" r="3.6" fill="#941c1c"/><circle cx="58.1" cy="140.6" r="2.9" fill="#bd3030"/><circle cx="51.5" cy="140.9" r="3.4" fill="#941c1c"/>
<circle cx="42.3" cy="128.4" r="7.0" fill="#6a1111"/><circle cx="47.0" cy="126.0" r="2.2" fill="#aa2525"/><circle cx="38.0" cy="126.5" r="3.5" fill="#941c1c"/><circle cx="44.9" cy="134.1" r="2.7" fill="#c43434"/><circle cx="44.0" cy="128.3" r="2.2" fill="#741313"/><circle cx="42.7" cy="128.2" r="2.9" fill="#861818"/><circle cx="42.5" cy="128.1" r="2.3" fill="#3d0a0a"/><circle cx="43.3" cy="128.8" r="3.2" fill="#c43434"/><circle cx="41.4" cy="126.4" r="3.0" fill="#9e2020"/><circle cx="39.6" cy="128.9" r="2.7" fill="#aa2525"/><circle cx="41.1" cy="128.6" r="2.5" fill="#b52a2a"/><circle cx="48.0" cy="125.0" r="2.0" fill="#3d0a0a"/><circle cx="42.7" cy="127.3" r="3.3" fill="#9e2020"/><circle cx="48.2" cy="125.8" r="3.4" fill="#b52a2a"/><circle cx="43.6" cy="121.4" r="3.5" fill="#941c1c"/><circle cx="44.9" cy="124.5" r="2.8" fill="#aa2525"/>
<circle cx="30.4" cy="113.0" r="7.0" fill="#6a1111"/><circle cx="29.6" cy="114.6" r="2.3" fill="#aa2525"/><circle cx="31.4" cy="114.3" r="2.2" fill="#bd3030"/><circle cx="29.4" cy="112.7" r="3.4" fill="#741313"/><circle cx="28.8" cy="113.9" r="2.1" fill="#741313"/><circle cx="29.7" cy="114.1" r="2.8" fill="#aa2525"/><circle cx="26.9" cy="114.0" r="1.6" fill="#3d0a0a"/><circle cx="26.4" cy="108.8" r="3.5" fill="#bd3030"/><circle cx="30.8" cy="112.3" r="3.2" fill="#aa2525"/><circle cx="28.6" cy="113.8" r="2.5" fill="#c43434"/><circle cx="32.1" cy="114.3" r="3.4" fill="#861818"/><circle cx="33.9" cy="106.7" r="1.6" fill="#3d0a0a"/><circle cx="26.9" cy="114.4" r="2.9" fill="#bd3030"/><circle cx="36.5" cy="113.1" r="2.9" fill="#b52a2a"/><circle cx="30.2" cy="113.3" r="2.7" fill="#741313"/><circle cx="29.4" cy="112.6" r="2.4" fill="#c43434"/>
<circle cx="25.1" cy="99.4" r="7.0" fill="#6a1111"/><circle cx="24.8" cy="98.0" r="2.2" fill="#9e2020"/><circle cx="29.3" cy="95.9" r="3.2" fill="#b52a2a"/><circle cx="26.4" cy="103.7" r="3.2" fill="#c43434"/><circle cx="23.8" cy="98.6" r="2.2" fill="#941c1c"/><circle cx="28.8" cy="93.7" r="2.9" fill="#aa2525"/><circle cx="22.0" cy="104.7" r="2.4" fill="#3d0a0a"/><circle cx="27.7" cy="101.0" r="3.2" fill="#b52a2a"/><circle cx="26.5" cy="98.0" r="2.4" fill="#aa2525"/><circle cx="30.2" cy="100.6" r="3.0" fill="#861818"/><circle cx="20.9" cy="104.8" r="3.6" fill="#9e2020"/><circle cx="29.0" cy="103.0" r="2.3" fill="#3d0a0a"/><circle cx="26.3" cy="93.1" r="3.0" fill="#861818"/><circle cx="24.9" cy="100.1" r="3.2" fill="#bd3030"/><circle cx="21.2" cy="99.0" r="2.9" fill="#861818"/><circle cx="25.2" cy="100.0" r="3.0" fill="#b52a2a"/>
<circle cx="23.4" cy="90.8" r="7.0" fill="#6a1111"/><circle cx="24.9" cy="91.9" r="3.3" fill="#861818"/><circle cx="30.2" cy="91.6" r="3.2" fill="#741313"/><circle cx="27.8" cy="91.3" r="3.0" fill="#c43434"/><circle cx="23.2" cy="90.1" r="3.4" fill="#b52a2a"/><circle cx="24.3" cy="91.1" r="2.8" fill="#741313"/><circle cx="24.1" cy="91.4" r="2.4" fill="#3d0a0a"/><circle cx="24.1" cy="90.0" r="3.0" fill="#941c1c"/><circle cx="26.5" cy="96.0" r="3.5" fill="#941c1c"/><circle cx="21.9" cy="86.7" r="3.0" fill="#861818"/><circle cx="17.9" cy="95.0" r="3.3" fill="#aa2525"/><circle cx="18.4" cy="94.4" r="2.2" fill="#3d0a0a"/><circle cx="25.9" cy="85.0" r="2.2" fill="#b52a2a"/><circle cx="30.1" cy="89.0" r="2.5" fill="#941c1c"/><circle cx="23.3" cy="90.7" r="2.3" fill="#b52a2a"/><circle cx="26.3" cy="92.1" r="2.9" fill="#861818"/>
<circle cx="21.6" cy="70.2" r="7.0" fill="#6a1111"/><circle cx="22.1" cy="73.2" r="2.7" fill="#bd3030"/><circle cx="17.6" cy="65.7" r="3.4" fill="#861818"/><circle cx="26.3" cy="71.2" r="2.5" fill="#741313"/><circle cx="17.5" cy="65.9" r="2.2" fill="#9e2020"/><circle cx="21.6" cy="74.0" r="2.8" fill="#861818"/><circle cx="21.1" cy="72.4" r="2.1" fill="#3d0a0a"/><circle cx="28.2" cy="72.8" r="3.5" fill="#741313"/><circle cx="25.4" cy="72.4" r="3.5" fill="#bd3030"/><circle cx="22.3" cy="70.8" r="2.5" fill="#941c1c"/><circle cx="19.8" cy="69.2" r="3.2" fill="#741313"/><circle cx="24.1" cy="66.3" r="2.1" fill="#3d0a0a"/><circle cx="23.2" cy="75.2" r="2.8" fill="#741313"/><circle cx="19.0" cy="67.9" r="2.6" fill="#c43434"/><circle cx="20.9" cy="71.4" r="2.9" fill="#941c1c"/><circle cx="24.2" cy="70.3" r="3.4" fill="#c43434"/>
<circle cx="28.6" cy="58.2" r="7.0" fill="#6a1111"/><circle cx="27.5" cy="60.4" r="2.5" fill="#c43434"/><circle cx="27.0" cy="63.7" r="2.3" fill="#9e2020"/><circle cx="26.6" cy="56.6" r="3.1" fill="#941c1c"/><circle cx="29.9" cy="56.0" r="3.2" fill="#c43434"/><circle cx="33.6" cy="57.9" r="3.5" fill="#941c1c"/><circle cx="27.2" cy="60.5" r="2.2" fill="#3d0a0a"/><circle cx="30.2" cy="54.8" r="3.2" fill="#bd3030"/><circle cx="28.0" cy="62.9" r="3.0" fill="#b52a2a"/><circle cx="27.9" cy="58.6" r="2.7" fill="#9e2020"/><circle cx="21.5" cy="58.3" r="3.0" fill="#941c1c"/><circle cx="29.8" cy="56.6" r="2.1" fill="#3d0a0a"/><circle cx="26.1" cy="60.5" r="2.8" fill="#aa2525"/><circle cx="27.8" cy="61.0" r="2.9" fill="#941c1c"/><circle cx="28.5" cy="58.2" r="3.2" fill="#bd3030"/><circle cx="27.0" cy="59.7" r="2.9" fill="#b52a2a"/>
<circle cx="40.6" cy="42.9" r="7.0" fill="#6a1111"/><circle cx="38.0" cy="43.9" r="2.4" fill="#aa2525"/><circle cx="37.8" cy="48.4" r="3.4" fill="#aa2525"/><circle cx="41.5" cy="45.9" r="3.5" fill="#861818"/><circle cx="42.5" cy="43.2" r="3.4" fill="#741313"/><circle cx="45.6" cy="40.1" r="2.9" fill="#941c1c"/><circle cx="36.8" cy="42.4" r="2.2" fill="#3d0a0a"/><circle cx="40.3" cy="42.9" r="3.1" fill="#bd3030"/><circle cx="45.3" cy="41.2" r="2.9" fill="#9e2020"/><circle cx="37.5" cy="44.8" r="3.1" fill="#b52a2a"/><circle cx="45.8" cy="38.0" r="2.8" fill="#bd3030"/><circle cx="41.3" cy="36.2" r="2.1" fill="#3d0a0a"/><circle cx="41.7" cy="44.9" r="3.6" fill="#741313"/><circle cx="39.8" cy="42.8" r="3.4" fill="#aa2525"/><circle cx="43.7" cy="36.2" r="3.4" fill="#941c1c"/><circle cx="37.9" cy="40.0" r="3.3" fill="#c43434"/>
<circle cx="50.9" cy="34.3" r="7.0" fill="#6a1111"/><circle cx="49.5" cy="34.3" r="2.4" fill="#9e2020"/><circle cx="46.5" cy="40.2" r="3.1" fill="#861818"/><circle cx="50.9" cy="34.2" r="2.1" fill="#861818"/><circle cx="53.4" cy="32.8" r="2.2" fill="#861818"/><circle cx="50.2" cy="33.0" r="2.8" fill="#741313"/><circle cx="55.5" cy="29.5" r="2.0" fill="#3d0a0a"/><circle cx="48.2" cy="32.9" r="2.3" fill="#b52a2a"/><circle cx="47.1" cy="33.9" r="2.1" fill="#9e2020"/><circle cx="52.7" cy="37.7" r="3.3" fill="#941c1c"/><circle cx="51.1" cy="33.9" r="2.1" fill="#aa2525"/><circle cx="52.0" cy="35.7" r="1.8" fill="#3d0a0a"/><circle cx="50.8" cy="35.0" r="3.5" fill="#9e2020"/><circle cx="49.0" cy="37.0" r="2.7" fill="#861818"/><circle cx="51.4" cy="37.2" r="3.2" fill="#861818"/><circle cx="46.6" cy="36.0" r="2.5" fill="#861818"/>
<circle cx="112.1" cy="28.3" r="7.0" fill="#6a1111"/><circle cx="114.4" cy="32.0" r="2.4" fill="#861818"/><circle cx="116.9" cy="24.7" r="2.6" fill="#741313"/><circle cx="115.6" cy="27.4" r="3.5" fill="#c43434"/><circle cx="109.9" cy="23.8" r="3.0" fill="#941c1c"/><circle cx="109.7" cy="34.4" r="2.8" fill="#c43434"/><circle cx="113.1" cy="29.0" r="1.9" fill="#3d0a0a"/><circle cx="114.2" cy="27.9" r="2.9" fill="#9e2020"/><circle cx="108.8" cy="33.9" r="2.6" fill="#9e2020"/><circle cx="115.1" cy="27.6" r="3.5" fill="#c43434"/><circle cx="109.4" cy="30.6" r="2.6" fill="#941c1c"/><circle cx="116.9" cy="29.4" r="1.8" fill="#3d0a0a"/><circle cx="112.1" cy="29.3" r="2.4" fill="#b52a2a"/><circle cx="108.8" cy="27.1" r="3.3" fill="#c43434"/><circle cx="113.5" cy="30.5" r="3.2" fill="#941c1c"/><circle cx="109.1" cy="25.2" r="2.5" fill="#bd3030"/>
<circle cx="151.5" cy="83.1" r="7.0" fill="#6a1111"/><circle cx="149.8" cy="83.0" r="2.8" fill="#b52a2a"/><circle cx="158.4" cy="80.5" r="3.0" fill="#bd3030"/><circle cx="149.2" cy="81.7" r="2.5" fill="#c43434"/><circle cx="155.4" cy="87.0" r="3.1" fill="#9e2020"/><circle cx="149.6" cy="82.6" r="3.3" fill="#941c1c"/><circle cx="156.7" cy="84.0" r="1.6" fill="#3d0a0a"/><circle cx="151.0" cy="83.5" r="2.4" fill="#c43434"/><circle cx="149.4" cy="87.5" r="2.3" fill="#aa2525"/><circle cx="153.4" cy="77.8" r="2.4" fill="#741313"/><circle cx="153.3" cy="84.2" r="3.3" fill="#941c1c"/><circle cx="150.9" cy="86.0" r="2.4" fill="#3d0a0a"/><circle cx="152.7" cy="82.6" r="2.6" fill="#aa2525"/><circle cx="151.7" cy="83.0" r="3.2" fill="#bd3030"/><circle cx="151.6" cy="89.4" r="2.6" fill="#9e2020"/><circle cx="151.9" cy="83.9" r="3.5" fill="#c43434"/>
<circle cx="142.8" cy="115.8" r="7.0" fill="#6a1111"/><circle cx="142.8" cy="115.5" r="2.2" fill="#b52a2a"/><circle cx="137.7" cy="118.1" r="2.3" fill="#861818"/><circle cx="138.4" cy="114.3" r="3.5" fill="#c43434"/><circle cx="138.0" cy="113.5" r="2.5" fill="#941c1c"/><circle cx="140.8" cy="112.0" r="3.5" fill="#9e2020"/><circle cx="145.7" cy="110.8" r="1.8" fill="#3d0a0a"/><circle cx="145.9" cy="112.7" r="3.1" fill="#c43434"/><circle cx="142.7" cy="115.5" r="2.6" fill="#aa2525"/><circle cx="142.8" cy="115.1" r="3.1" fill="#941c1c"/><circle cx="147.4" cy="115.7" r="2.4" fill="#9e2020"/><circle cx="138.7" cy="121.5" r="1.9" fill="#3d0a0a"/><circle cx="140.9" cy="110.7" r="3.3" fill="#bd3030"/><circle cx="137.8" cy="115.5" r="2.4" fill="#b52a2a"/><circle cx="141.4" cy="115.9" r="3.5" fill="#741313"/><circle cx="143.4" cy="116.9" r="3.3" fill="#c43434"/>
<circle cx="48.6" cy="135.1" r="7.0" fill="#6a1111"/><circle cx="46.8" cy="134.6" r="2.2" fill="#aa2525"/><circle cx="48.2" cy="135.6" r="3.1" fill="#b52a2a"/><circle cx="52.0" cy="139.0" r="3.1" fill="#c43434"/><circle cx="48.6" cy="135.0" r="3.1" fill="#b52a2a"/><circle cx="51.0" cy="134.0" r="2.5" fill="#b52a2a"/><circle cx="47.1" cy="134.1" r="2.1" fill="#3d0a0a"/><circle cx="43.2" cy="133.4" r="2.4" fill="#b52a2a"/><circle cx="45.8" cy="133.1" r="3.2" fill="#c43434"/><circle cx="50.2" cy="136.5" r="2.6" fill="#c43434"/><circle cx="55.0" cy="136.8" r="2.6" fill="#9e2020"/><circle cx="47.6" cy="131.9" r="1.6" fill="#3d0a0a"/><circle cx="44.6" cy="136.5" r="2.5" fill="#9e2020"/><circle cx="51.9" cy="136.0" r="3.6" fill="#bd3030"/><circle cx="53.2" cy="137.7" r="3.6" fill="#741313"/><circle cx="51.4" cy="137.3" r="2.8" fill="#c43434"/>
<circle cx="24.5" cy="80.2" r="7.0" fill="#6a1111"/><circle cx="25.0" cy="77.9" r="2.6" fill="#9e2020"/><circle cx="21.6" cy="76.5" r="3.5" fill="#741313"/><circle cx="24.2" cy="79.7" r="3.2" fill="#861818"/><circle cx="25.4" cy="74.1" r="2.5" fill="#b52a2a"/><circle cx="28.3" cy="79.3" r="3.4" fill="#b52a2a"/><circle cx="28.8" cy="83.4" r="1.8" fill="#3d0a0a"/><circle cx="21.0" cy="83.5" r="2.6" fill="#c43434"/><circle cx="21.7" cy="83.2" r="2.7" fill="#741313"/><circle cx="24.5" cy="80.5" r="3.0" fill="#941c1c"/><circle cx="30.3" cy="76.3" r="2.8" fill="#bd3030"/><circle cx="23.6" cy="72.9" r="2.1" fill="#3d0a0a"/><circle cx="25.5" cy="81.5" r="2.3" fill="#941c1c"/><circle cx="24.7" cy="80.4" r="2.8" fill="#c43434"/><circle cx="25.0" cy="82.9" r="2.1" fill="#941c1c"/><circle cx="24.8" cy="80.6" r="2.2" fill="#941c1c"/>
</g>
</svg>
<div class="t " style="left:752.6px;top:59.7px;font-size:35.2px;line-height:35.2px;letter-spacing:-1.37px;color:#ffbe7d;font-weight:bold;">Covid-19 Dashboard</div>
<div class="t " style="left:858.5px;top:104.0px;font-size:16.5px;line-height:16.5px;letter-spacing:-0.48px;color:#ffbe7d;font-weight:bold;">by elvis.koech</div>
<div class="t " style="left:107.5px;top:225.1px;font-size:26.3px;line-height:26.3px;letter-spacing:-0.54px;color:#fff;font-weight:bold;">Total Cases</div>
<div class="t " style="left:99.4px;top:261.3px;font-size:26.3px;line-height:26.3px;letter-spacing:0.88px;color:#fff;font-weight:bold;">247,129,785</div>
<div class="t " style="left:403.6px;top:225.1px;font-size:26.3px;line-height:26.3px;letter-spacing:0.04px;color:#fff;font-weight:bold;">Total Deaths</div>
<div class="t " style="left:419.3px;top:261.3px;font-size:26.3px;line-height:26.3px;letter-spacing:0.88px;color:#fff;font-weight:bold;">5,005,638</div>
<div class="t " style="left:665.5px;top:225.1px;font-size:26.3px;line-height:26.3px;letter-spacing:0.48px;color:#fff;font-weight:bold;">Mortality Rate%</div>
<div class="t " style="left:729.0px;top:261.3px;font-size:26.3px;line-height:26.3px;letter-spacing:0.63px;color:#fff;font-weight:bold;">2.03%</div>
<div class="hr1"></div>
<div class="dashes"><i style="left:453.9px;width:5.7px"></i><i style="left:466.7px;width:3.3px"></i><i style="left:474.9px;width:3.3px"></i><i style="left:487.2px;width:4.0px"></i><i style="left:511.8px;width:3.4px"></i><i style="left:524.6px;width:5.7px"></i><i style="left:539.2px;width:11.6px"></i><i style="left:566.1px;width:3.8px"></i><i style="left:577.2px;width:4.4px"></i><i style="left:585.0px;width:4.4px"></i><i style="left:600.8px;width:4.7px"></i></div>
<svg id="map" style="left:5px;top:310px" width="916" height="696" viewBox="5 310 916 696" font-family="Liberation Sans, sans-serif">
<defs><clipPath id="mc"><rect x="6" y="311" width="913" height="693"/></clipPath></defs>
<rect x="5" y="310" width="916" height="696" fill="#141414"/>
<g clip-path="url(#mc)">
<path d="M343.6,292.1 L343.3,310.3 L343.6,313.4 L346.5,315.8 L346.2,322.4 L342.7,323.6 L340.8,319.4 L337.6,321.2 L335.7,326.5 L335.7,333.3 L332.5,335.5 L331.2,338.3 L328.0,336.6 L322.9,336.1 L314.3,341.0 L308.6,338.3 L303.8,340.5 L300.6,337.7 L300.6,332.2 L302.6,326.5 L302.2,320.0 L294.9,323.6 L294.6,332.2 L296.2,336.1 L296.8,340.5 L291.1,343.1 L284.7,344.2 L283.1,350.0 L279.9,354.1 L273.9,356.1 L273.6,360.2 L268.8,363.6 L265.0,363.1 L263.1,367.5 L253.8,368.5 L255.1,371.8 L260.8,374.2 L265.0,379.3 L265.0,387.0 L263.1,391.8 L256.1,391.4 L243.3,390.5 L239.5,393.6 L240.8,400.0 L238.6,411.7 L240.5,418.6 L245.2,417.8 L248.7,420.1 L251.3,422.5 L254.5,419.7 L261.8,419.3 L267.2,413.3 L269.4,411.3 L267.8,408.4 L271.3,402.2 L279.0,398.3 L278.4,392.7 L283.1,391.8 L289.5,393.2 L292.7,390.1 L296.8,387.4 L301.3,389.6 L303.8,395.8 L308.6,400.0 L313.4,403.0 L318.5,406.3 L319.7,411.3 L318.8,414.5 L321.3,413.7 L323.2,410.5 L321.3,407.6 L322.9,404.3 L327.1,406.8 L327.4,405.1 L321.3,400.0 L319.7,398.3 L316.6,397.9 L312.4,392.3 L308.6,388.3 L308.0,383.4 L312.4,381.6 L312.1,384.7 L315.0,383.8 L317.5,389.2 L322.9,393.6 L327.7,396.6 L330.9,398.8 L330.6,404.3 L332.5,407.6 L335.7,411.3 L336.6,415.3 L337.9,419.3 L340.4,420.5 L342.0,420.5 L342.0,417.0 L345.2,415.7 L343.6,413.3 L342.0,410.5 L341.4,404.7 L344.6,406.3 L346.8,403.0 L351.6,403.0 L352.5,405.5 L353.8,404.3 L358.0,402.2 L361.1,401.3 L358.3,399.6 L357.0,395.8 L359.5,391.4 L360.5,385.6 L363.4,383.4 L365.9,379.3 L369.1,377.0 L373.9,379.7 L372.3,382.9 L375.8,387.0 L381.5,384.7 L385.0,382.9 L380.2,379.3 L388.2,375.6 L393.6,374.6 L389.8,380.2 L386.6,383.4 L391.4,387.9 L396.2,391.8 L401.3,397.9 L400.9,400.5 L394.6,402.2 L386.6,401.3 L380.2,397.9 L373.9,397.9 L368.1,401.3 L361.8,401.3 L361.1,402.2 L361.1,404.3 L354.8,404.7 L352.2,408.4 L354.8,412.5 L355.7,418.6 L358.6,419.7 L362.7,421.7 L366.5,419.3 L370.7,422.1 L377.1,421.3 L383.4,419.3 L383.4,424.5 L382.5,428.4 L380.9,434.1 L379.0,439.4 L377.7,440.5 L372.3,441.2 L367.5,439.7 L361.1,442.0 L354.8,440.5 L348.4,439.4 L342.0,435.6 L337.3,434.9 L332.5,437.9 L332.5,442.4 L329.3,444.2 L322.9,441.6 L317.5,436.7 L310.2,434.5 L303.8,432.2 L301.3,429.5 L303.8,424.5 L302.2,418.6 L300.0,417.4 L294.3,419.0 L284.7,419.3 L278.4,419.3 L268.8,423.3 L262.4,426.0 L251.9,423.3 L249.7,423.7 L247.1,430.3 L241.7,433.0 L237.6,439.7 L237.9,445.3 L232.2,451.9 L227.4,453.7 L221.7,461.5 L217.9,467.8 L214.7,476.4 L216.9,482.2 L216.3,492.2 L213.1,498.2 L215.6,503.8 L215.6,506.0 L221.0,510.9 L226.5,516.1 L229.0,521.6 L233.8,524.4 L240.1,529.6 L244.9,531.5 L252.9,529.2 L259.2,529.6 L262.4,530.2 L268.8,527.6 L272.6,526.0 L278.4,525.1 L283.1,525.7 L286.3,530.2 L289.5,531.8 L295.9,531.2 L299.0,533.1 L300.0,537.5 L298.4,542.3 L297.5,547.7 L300.0,553.5 L303.8,558.2 L307.0,561.4 L308.0,564.6 L310.2,571.1 L312.7,580.1 L311.8,585.6 L307.6,593.8 L306.4,601.1 L308.6,607.1 L311.8,613.9 L315.0,620.1 L315.0,626.0 L316.9,633.4 L321.3,640.6 L323.9,647.5 L326.7,653.1 L327.1,660.7 L330.9,663.4 L335.7,662.3 L342.0,660.7 L350.0,660.7 L354.8,658.8 L359.5,655.0 L364.3,649.4 L367.5,643.9 L372.3,639.1 L373.6,631.3 L373.2,629.5 L381.2,624.2 L381.8,617.3 L379.3,610.5 L383.4,606.5 L389.8,601.1 L396.2,597.1 L398.4,592.2 L397.8,585.6 L397.4,579.1 L394.6,571.1 L393.6,566.2 L392.3,563.0 L394.6,558.2 L397.8,553.5 L400.9,550.9 L405.7,544.5 L412.1,539.1 L418.4,532.8 L423.2,526.4 L427.4,519.9 L430.5,513.5 L431.8,507.7 L429.6,507.3 L423.2,509.3 L415.3,511.2 L408.9,512.2 L406.3,508.6 L406.7,505.4 L404.1,502.1 L399.3,497.9 L395.5,495.5 L393.0,490.6 L389.2,485.6 L387.2,480.5 L386.6,473.7 L382.5,467.5 L380.2,461.5 L377.1,456.2 L374.8,451.5 L372.3,445.7 L373.2,449.0 L375.5,451.9 L377.7,453.7 L378.6,450.8 L379.9,447.1 L380.2,452.2 L385.0,459.7 L387.6,466.1 L391.4,470.2 L393.3,476.1 L396.2,480.5 L399.3,485.6 L403.2,490.6 L405.1,495.5 L406.7,502.8 L407.3,504.7 L412.1,504.1 L418.4,502.1 L424.8,499.5 L434.4,494.6 L440.7,490.6 L445.5,487.9 L450.3,484.2 L452.8,479.5 L456.0,478.8 L459.2,472.0 L455.7,468.2 L450.3,466.8 L448.4,464.0 L448.4,458.7 L447.1,459.7 L443.9,461.5 L440.7,466.1 L434.4,466.8 L432.8,465.0 L433.1,460.1 L431.2,459.7 L430.2,463.3 L428.6,460.8 L428.3,457.2 L424.8,454.0 L423.2,450.8 L421.6,447.1 L423.2,445.3 L426.4,444.9 L429.6,448.2 L431.2,452.6 L436.0,454.4 L442.3,457.6 L448.1,455.8 L450.3,458.0 L452.5,460.8 L459.8,462.2 L464.6,462.9 L471.0,462.2 L475.8,462.2 L480.9,461.9 L482.8,464.7 L485.3,467.5 L487.9,469.5 L490.1,472.0 L488.2,472.6 L491.7,477.1 L494.9,477.8 L499.0,475.4 L500.3,477.1 L500.6,483.9 L502.2,490.6 L503.8,497.2 L506.0,503.8 L509.2,508.6 L511.7,515.1 L515.6,519.6 L517.8,517.1 L520.3,515.8 L521.0,512.5 L523.2,512.5 L522.9,507.0 L524.5,502.8 L523.8,497.2 L526.1,494.2 L530.8,491.9 L536.3,486.2 L541.0,481.5 L545.2,478.8 L545.8,475.4 L550.6,474.7 L555.4,473.7 L560.1,472.0 L561.7,477.1 L563.3,480.5 L568.1,484.5 L569.1,493.9 L572.2,494.6 L577.6,491.2 L579.9,493.9 L580.2,498.8 L581.8,503.8 L583.1,508.6 L582.4,513.5 L581.8,519.0 L585.0,523.2 L588.2,526.4 L588.8,531.2 L591.3,536.3 L595.2,539.1 L598.3,541.4 L600.6,540.7 L598.3,536.6 L598.0,531.2 L595.2,526.4 L592.0,523.5 L588.2,521.6 L587.2,516.7 L585.0,513.5 L586.6,508.6 L587.2,502.4 L590.4,503.8 L594.5,506.4 L596.8,510.3 L601.5,512.2 L603.1,517.7 L607.9,515.1 L609.5,511.9 L615.9,508.6 L616.8,503.8 L615.2,495.5 L611.1,491.2 L607.9,487.2 L605.3,483.9 L607.9,478.8 L612.7,475.4 L617.4,475.4 L620.0,479.5 L620.6,476.1 L625.4,474.4 L631.8,472.3 L638.1,470.6 L642.9,467.5 L647.7,462.2 L650.2,458.0 L653.1,452.6 L656.6,447.1 L655.7,443.5 L656.9,439.7 L652.5,434.1 L648.7,426.4 L651.8,422.5 L658.5,418.6 L655.7,416.6 L647.7,417.4 L644.5,413.3 L644.5,409.7 L649.3,407.2 L654.1,403.0 L657.9,404.3 L655.0,410.5 L657.2,410.1 L664.6,406.3 L666.8,408.4 L667.8,412.5 L666.8,415.3 L671.6,415.7 L671.6,420.5 L670.9,426.4 L671.6,428.7 L674.8,427.6 L680.2,425.3 L681.1,420.5 L680.5,416.6 L677.9,412.5 L674.8,408.4 L676.4,405.5 L681.8,402.2 L682.1,397.9 L685.9,395.8 L690.7,392.3 L693.9,394.5 L700.2,389.2 L705.0,382.5 L709.8,375.6 L714.6,368.5 L716.2,358.7 L718.7,351.0 L718.7,344.7 L714.6,340.5 L709.8,339.4 L706.6,341.5 L706.0,337.7 L701.8,337.7 L699.6,335.5 L705.0,326.5 L711.4,319.4 L716.2,314.6 L722.5,309.7 L730.5,309.1 L740.0,309.1 L746.4,307.8 L752.8,311.6 L759.1,309.7 L762.3,308.4 L765.5,292.1Z M778.2,292.1 L773.5,308.4 L768.7,317.7 L765.5,323.6 L764.5,335.0 L765.5,348.4 L767.7,356.1 L771.9,351.0 L773.5,345.8 L778.2,340.5 L784.6,335.0 L784.6,327.6 L788.7,323.6 L787.8,317.7 L791.0,309.7 L794.2,305.3 L810.1,292.1Z M720.9,338.8 L724.1,345.8 L725.1,356.1 L726.7,365.1 L724.1,375.6 L725.7,379.3 L720.9,380.2 L720.9,370.9 L720.9,361.2 L720.0,351.0 L720.9,343.1Z M714.6,400.0 L719.3,397.9 L725.1,397.9 L732.1,392.3 L730.5,389.2 L724.1,387.9 L720.0,382.9 L719.3,391.4 L715.5,393.6 L714.6,397.9Z M717.7,400.5 L720.9,406.3 L719.3,412.5 L717.7,418.6 L717.1,423.7 L714.6,426.4 L711.4,427.2 L705.0,428.0 L703.4,429.1 L700.9,432.2 L698.6,428.4 L692.3,429.1 L685.9,430.3 L685.9,427.6 L690.7,424.5 L697.0,424.1 L701.8,423.7 L704.4,418.6 L706.0,417.0 L708.2,418.6 L713.0,412.5 L714.6,406.3 L714.6,402.2Z M682.7,432.2 L685.9,430.3 L689.1,433.0 L687.5,439.7 L684.3,440.9 L682.7,436.0 L681.1,433.3Z M690.7,430.3 L697.0,429.1 L697.0,431.4 L692.3,434.9 L690.0,433.0Z M654.1,462.6 L657.2,463.3 L655.7,468.5 L653.4,473.7 L651.5,470.2 L651.8,466.8Z M614.9,482.9 L619.0,480.5 L622.2,481.5 L620.6,485.6 L615.9,486.2Z M523.5,514.1 L527.3,518.3 L529.3,523.2 L527.7,525.7 L524.2,526.4 L522.9,523.2 L522.9,518.3Z M425.8,584.0 L428.6,593.8 L428.0,597.1 L426.4,602.1 L423.2,612.2 L420.0,622.5 L418.4,627.7 L413.7,629.5 L408.9,627.7 L407.3,620.8 L407.3,615.6 L410.5,610.5 L408.9,603.8 L410.5,597.8 L415.3,596.4 L420.0,592.2 L423.2,587.2Z M252.2,314.0 L258.6,314.0 L257.7,319.4 L262.4,319.4 L261.8,326.5 L259.2,329.3 L263.4,332.2 L264.7,336.6 L268.8,342.1 L269.8,345.8 L273.9,346.9 L273.9,351.0 L271.3,353.6 L273.3,355.1 L270.4,357.2 L264.0,357.7 L257.7,359.2 L251.3,361.2 L254.5,355.1 L259.2,354.6 L252.9,352.6 L255.4,348.4 L254.5,344.7 L259.2,344.2 L259.2,339.4 L257.7,336.1 L252.9,336.1 L253.5,330.5 L250.3,329.3 L249.7,321.8 L251.3,317.7Z M249.1,333.9 L251.3,338.3 L249.4,343.1 L249.1,349.5 L244.9,351.0 L238.6,353.6 L236.3,350.0 L238.6,344.7 L237.0,339.4 L241.7,337.7 L243.3,333.9Z M284.7,292.1 L284.7,305.3 L286.3,311.6 L289.5,317.1 L294.3,317.7 L299.0,312.8 L302.2,309.7 L303.8,311.6 L304.8,315.8 L307.0,320.6 L309.6,327.6 L310.2,332.7 L314.3,332.2 L315.3,328.8 L319.7,327.6 L321.3,320.6 L322.3,314.0 L327.7,309.1 L329.3,305.3 L323.9,298.8 L324.5,292.1Z M303.8,331.0 L308.6,329.3 L308.9,333.9 L306.4,336.1 L303.8,333.9Z M326.7,322.4 L329.3,318.3 L328.7,322.4Z M308.6,414.5 L318.2,413.7 L317.2,419.7 L309.2,416.6Z M295.2,402.2 L299.4,402.2 L299.4,409.7 L295.9,410.5Z M296.5,395.8 L298.7,393.6 L299.0,400.0 L296.8,400.0Z M343.9,424.1 L352.2,425.3 L351.6,426.4 L343.9,425.6Z M371.6,426.4 L378.6,424.1 L377.1,426.4 L373.9,428.0Z M-17.8,229.0 L23.6,229.0 L22.0,309.7 L18.9,313.4 L23.6,320.6 L25.2,326.5 L18.9,336.1 L16.3,340.5 L18.9,349.5 L15.7,354.1 L12.5,355.1 L7.1,346.3 L6.8,334.4 L-1.8,332.7 L-17.8,326.5 L-17.8,480.5 L1.3,480.5 L1.3,445.3 L5.2,449.0 L5.8,454.4 L8.3,459.7 L10.9,462.9 L13.1,462.2 L13.8,458.0 L12.5,452.6 L9.9,445.3 L10.9,439.7 L15.7,434.1 L22.0,428.4 L28.4,425.3 L26.8,418.6 L28.4,414.5 L33.2,408.4 L33.2,404.3 L39.6,402.2 L45.9,399.2 L43.7,395.8 L45.9,390.5 L55.5,385.6 L58.7,383.8 L63.4,382.5 L58.7,391.4 L68.2,386.1 L74.6,383.4 L77.8,380.2 L76.2,375.6 L73.0,381.1 L65.0,380.2 L61.8,373.2 L63.4,367.0 L58.7,365.1 L50.7,368.5 L44.3,375.6 L49.1,368.5 L55.5,363.6 L61.8,360.2 L74.6,360.2 L80.9,356.1 L87.3,353.6 L91.5,350.0 L90.5,343.1 L84.1,336.1 L77.8,332.2 L73.0,323.6 L71.4,317.7 L65.0,305.3 L63.4,292.1 L58.7,229.0Z M80.0,372.3 L85.7,358.7 L90.5,353.1 L92.1,358.7 L88.9,362.1 L93.7,363.6 L98.5,365.1 L100.0,371.8 L101.0,375.6 L98.5,377.4 L95.3,374.2 L90.5,376.0 L85.7,372.8Z M-1.5,474.0 L4.5,470.2 L10.9,469.9 L17.3,472.0 L23.6,475.4 L28.4,478.1 L32.5,479.8 L30.0,480.8 L22.0,480.8 L23.0,478.5 L18.9,477.1 L14.1,474.7 L7.7,472.6 L2.9,473.7Z M31.9,485.6 L35.4,480.8 L40.5,481.2 L45.9,481.8 L51.0,484.9 L49.7,486.6 L44.3,486.6 L41.1,488.2 L38.0,486.6 L33.2,486.6Z M19.5,485.9 L25.9,486.9 L23.6,487.9 L19.5,486.9Z M54.8,485.6 L59.6,485.9 L59.3,487.2 L54.8,487.2Z M-17.8,480.5 L-17.8,519.9 L4.5,519.0 L7.7,519.3 L10.9,521.6 L13.1,522.2 L12.5,519.9 L14.7,517.7 L18.9,518.3 L19.5,521.6 L22.7,520.6 L21.1,517.7 L17.3,515.1 L14.7,515.1 L10.9,517.4 L7.1,516.7 L4.5,513.5 L2.3,508.6 L3.6,500.5 L3.9,497.2 L1.3,494.6 L-5.0,494.2 L-11.4,494.6 L-13.9,490.6 L-9.8,485.6 L-9.8,478.8 L-11.4,475.4 L-17.8,476.1Z M22.0,518.3 L28.4,511.2 L31.6,510.3 L39.6,506.4 L41.1,510.3 L45.9,507.0 L50.7,509.6 L58.7,511.9 L65.0,511.9 L71.4,511.2 L74.6,515.1 L77.8,518.3 L82.5,523.2 L87.3,526.4 L93.7,526.4 L98.5,528.0 L103.2,530.2 L106.4,532.8 L109.6,540.7 L109.6,545.5 L114.4,548.7 L122.3,549.3 L127.1,553.5 L135.1,554.4 L141.4,554.4 L147.8,558.2 L152.6,561.4 L156.7,563.0 L158.0,569.4 L156.7,575.9 L151.0,582.4 L146.2,587.2 L144.6,593.8 L144.6,602.1 L141.4,610.5 L138.3,617.3 L131.9,620.8 L125.5,623.2 L119.2,627.0 L114.4,631.3 L113.7,638.4 L109.6,645.7 L103.2,653.1 L98.5,660.7 L93.7,664.2 L87.3,663.4 L83.2,660.7 L86.7,668.5 L85.1,676.5 L77.8,680.5 L71.4,680.5 L69.8,688.8 L61.8,688.8 L66.0,695.2 L61.2,701.8 L55.5,708.5 L53.9,713.1 L58.7,717.8 L53.9,727.4 L49.1,734.9 L50.7,741.5 L50.7,743.6 L55.5,750.5 L61.2,754.4 L55.5,758.8 L47.5,757.7 L41.1,751.6 L36.4,745.2 L31.6,740.0 L28.4,729.8 L28.4,720.1 L31.6,710.8 L34.8,701.8 L33.8,693.1 L34.1,684.7 L34.8,676.5 L36.4,668.5 L39.6,660.7 L41.1,653.1 L41.1,645.7 L42.7,638.4 L44.3,631.3 L44.6,622.5 L45.3,613.9 L45.0,604.8 L39.6,600.4 L33.2,597.1 L26.8,592.2 L23.6,585.6 L18.9,577.5 L15.7,571.1 L10.9,564.6 L10.3,559.8 L13.1,556.0 L11.5,552.8 L11.5,548.7 L14.1,543.9 L17.3,540.7 L18.9,537.5 L22.7,533.4 L22.0,526.4 L22.7,521.6Z M74.6,736.4 L84.1,736.4 L82.5,741.0 L74.6,741.0Z M630.2,617.3 L631.8,616.6 L636.6,613.2 L641.3,612.5 L647.7,610.5 L654.1,608.8 L658.2,603.8 L658.2,600.4 L662.0,601.4 L663.6,597.8 L668.4,592.2 L673.2,590.2 L677.9,593.5 L681.1,593.1 L682.7,588.2 L685.3,585.3 L690.7,584.0 L690.7,581.7 L698.6,584.6 L704.1,584.0 L703.4,588.9 L700.9,593.8 L705.0,596.4 L711.4,600.4 L716.2,602.4 L719.3,595.5 L720.0,587.2 L721.9,580.1 L725.7,586.3 L726.3,591.5 L731.4,593.8 L733.7,602.1 L735.3,607.1 L741.6,610.5 L744.8,617.3 L749.6,622.5 L755.3,628.4 L756.9,634.8 L757.5,640.2 L756.0,649.4 L752.8,656.9 L749.6,662.6 L746.4,670.5 L745.8,674.4 L740.0,676.1 L735.3,680.5 L730.5,677.7 L725.7,679.7 L719.3,677.7 L714.6,674.4 L713.0,668.5 L708.2,667.3 L708.2,661.9 L706.6,656.9 L706.0,664.6 L701.8,664.6 L700.2,663.4 L696.1,656.9 L689.1,653.1 L679.5,651.6 L670.0,654.3 L663.6,656.9 L662.0,660.3 L650.9,660.3 L644.5,664.6 L638.1,664.2 L635.0,661.9 L637.2,653.1 L635.0,645.7 L632.7,638.4 L630.2,631.3 L629.5,624.2Z M729.5,687.6 L735.3,689.3 L741.0,688.4 L740.7,694.4 L736.8,699.6 L733.7,699.6 L731.4,694.4Z M818.7,662.3 L823.8,666.5 L827.6,671.3 L829.2,674.8 L835.6,674.8 L836.5,678.5 L832.4,682.6 L831.7,686.7 L827.0,691.4 L825.0,690.1 L826.6,685.5 L822.2,682.2 L824.7,677.7 L825.0,672.4 L822.8,669.3Z M818.7,686.7 L823.8,691.8 L819.6,698.3 L814.2,703.1 L812.3,709.9 L806.9,713.6 L802.1,711.7 L798.9,709.9 L804.7,701.8 L811.7,696.5 L814.9,691.8Z M685.9,548.0 L690.7,546.8 L695.5,548.0 L696.1,553.5 L700.2,556.0 L705.0,551.9 L709.8,550.9 L717.7,553.8 L724.1,556.3 L728.9,557.6 L733.7,562.4 L738.4,564.6 L737.5,566.9 L741.6,572.7 L748.0,578.5 L744.8,578.5 L738.4,576.9 L733.7,571.7 L728.9,570.1 L724.1,574.3 L717.7,574.6 L713.0,571.4 L708.2,572.0 L710.7,567.8 L708.8,563.0 L701.8,560.2 L693.9,558.2 L691.6,556.0 L695.5,553.5 L689.1,554.4 L685.9,550.3Z M741.0,563.4 L746.4,563.0 L751.2,559.2 L753.7,559.2 L752.8,562.4 L748.0,565.3 L743.2,565.3Z M615.9,540.7 L618.1,539.1 L623.2,537.9 L628.6,535.3 L633.4,531.2 L636.6,528.0 L640.7,523.5 L643.6,525.4 L647.7,528.9 L644.5,531.8 L643.6,535.9 L644.5,539.1 L647.7,542.3 L643.6,543.9 L642.9,548.0 L639.7,550.9 L639.1,556.6 L634.0,558.2 L628.6,555.7 L624.5,556.0 L619.7,554.4 L619.0,549.6 L616.5,547.1 L615.9,543.9Z M572.2,527.6 L579.2,528.9 L582.4,532.8 L587.2,536.9 L592.0,539.8 L596.8,543.0 L599.3,547.1 L601.5,551.2 L606.3,555.1 L605.7,564.0 L601.5,563.7 L594.5,558.2 L590.4,554.1 L588.2,548.7 L584.0,543.9 L582.4,539.8 L577.6,535.3 L572.9,530.2Z M603.8,567.2 L607.9,564.6 L614.3,566.6 L620.6,567.2 L627.6,567.5 L633.4,570.4 L632.7,573.0 L625.4,572.0 L617.4,570.4 L611.1,570.1 L607.3,568.8Z M649.3,563.0 L652.2,563.0 L652.2,555.1 L654.1,554.1 L656.0,559.8 L659.8,560.8 L658.2,556.0 L655.7,551.5 L661.4,548.4 L655.7,548.4 L652.5,544.2 L654.1,542.0 L660.4,542.6 L666.8,540.4 L666.2,542.3 L660.4,544.2 L652.5,543.9 L650.9,543.0 L650.2,546.1 L648.7,552.5 L647.1,555.1 L649.3,558.2Z M635.0,572.0 L641.3,572.3 L647.7,572.3 L654.1,572.7 L660.4,572.0 L659.8,573.6 L650.9,573.9 L641.3,574.3 L635.6,573.6Z M662.0,578.5 L666.8,574.3 L673.2,572.3 L671.6,574.3 L665.2,578.1Z M652.5,485.6 L657.9,485.6 L657.2,492.2 L655.7,497.2 L658.8,500.5 L663.6,503.8 L662.0,502.1 L655.7,501.1 L653.1,498.8 L650.9,495.5 L651.8,492.2Z M657.2,523.2 L662.0,517.7 L668.4,514.1 L671.6,519.9 L670.6,524.8 L668.4,527.0 L663.6,525.4 L663.6,521.6Z M657.2,507.7 L660.4,508.6 L661.1,513.5 L658.8,515.1 L657.2,511.9Z M664.6,505.4 L668.4,506.4 L667.4,512.9 L665.2,510.9Z M642.3,518.3 L649.3,509.3 L648.7,512.5 L643.9,518.0Z M674.8,539.1 L677.9,540.7 L676.4,545.5 L677.9,548.0 L675.1,544.5Z M676.4,555.1 L684.3,555.1 L685.3,557.3 L677.9,556.6Z M791.0,611.2 L798.9,616.6 L800.5,618.7 L795.8,617.0 L791.0,612.5Z M438.8,504.7 L442.3,505.1 L440.7,506.0Z M924.7,292.1 L923.1,309.7 L924.7,314.0 L924.1,320.0 L916.7,324.7 L910.4,329.3 L904.0,332.7 L897.6,335.5 L894.5,336.1 L890.3,337.7 L890.3,335.5 L896.0,332.7 L902.4,329.3 L908.8,324.2 L913.6,320.0 L914.2,313.4 L910.4,312.8 L905.6,313.4 L899.2,309.7 L897.6,302.1 L899.2,292.1Z M923.1,318.3 L929.5,318.9 L926.3,323.6 L922.8,321.8Z M882.7,341.5 L884.9,340.3 L887.1,341.5 L884.9,342.7Z M876.6,344.7 L878.5,343.6 L880.4,344.7 L878.5,345.9Z M872.2,346.9 L873.1,345.7 L874.1,346.9 L873.1,348.0Z M864.8,349.0 L865.8,347.8 L866.8,349.0 L865.8,350.1Z M857.8,350.0 L859.8,348.9 L861.7,350.0 L859.8,351.1Z M851.2,352.1 L852.7,350.9 L854.3,352.1 L852.7,353.2Z M845.4,353.1 L846.7,352.0 L848.0,353.1 L846.7,354.2Z M837.8,353.6 L839.4,352.5 L841.0,353.6 L839.4,354.7Z M833.0,351.0 L834.0,349.9 L834.9,351.0 L834.0,352.2Z M818.0,346.3 L819.6,345.2 L821.2,346.3 L819.6,347.5Z M796.1,334.4 L798.0,333.2 L799.9,334.4 L798.0,335.6Z M801.5,336.6 L802.4,335.4 L803.4,336.6 L802.4,337.8Z M763.6,359.2 L765.2,357.7 L766.8,359.2 L765.2,360.7Z M760.7,363.6 L761.7,362.1 L762.6,363.6 L761.7,365.1Z M755.8,369.9 L756.6,368.5 L757.4,369.9 L756.6,371.3Z M751.8,375.6 L752.8,374.2 L753.7,375.6 L752.8,377.0Z M744.6,380.2 L746.4,378.8 L748.2,380.2 L746.4,381.6Z M737.2,384.7 L739.7,383.4 L742.3,384.7 L739.7,386.1Z M732.1,388.3 L733.7,387.0 L735.3,388.3 L733.7,389.6Z M276.8,408.0 L278.4,407.0 L279.9,408.0 L278.4,409.0Z M19.8,465.7 L21.1,463.6 L22.4,465.7 L21.1,467.8Z M18.5,457.6 L20.4,456.9 L22.4,457.6 L20.4,458.3Z M21.7,463.3 L22.7,462.6 L23.6,463.3 L22.7,464.0Z M26.2,466.8 L26.8,465.4 L27.5,466.8 L26.8,468.2Z M33.5,477.1 L34.8,476.4 L36.0,477.1 L34.8,477.8Z M72.0,512.2 L73.6,511.1 L75.2,512.2 L73.6,513.3Z M72.2,493.2 L73.0,492.4 L73.8,493.2 L73.0,494.1Z M73.9,498.5 L74.6,497.7 L75.2,498.5 L74.6,499.3Z M215.0,451.5 L216.3,450.8 L217.5,451.5 L216.3,452.2Z M218.2,452.6 L219.1,451.9 L220.1,452.6 L219.1,453.3Z M223.3,451.1 L224.2,449.7 L225.2,451.1 L224.2,452.6Z M192.7,496.9 L193.7,496.0 L194.6,496.9 L193.7,497.7Z M190.5,491.6 L191.4,490.9 L192.4,491.6 L191.4,492.2Z M563.5,506.0 L564.3,502.8 L565.1,506.0 L564.3,509.3Z M566.8,522.5 L567.5,521.2 L568.1,522.5 L567.5,523.8Z M675.4,458.0 L676.4,456.5 L677.3,458.0 L676.4,459.4Z M680.2,451.5 L681.1,450.8 L682.1,451.5 L681.1,452.2Z M444.6,614.2 L445.5,613.4 L446.5,614.2 L445.5,615.1Z M451.2,611.5 L452.2,610.7 L453.2,611.5 L452.2,612.4Z M406.0,583.0 L406.7,582.2 L407.3,583.0 L406.7,583.8Z M774.4,571.7 L776.6,570.7 L778.9,571.7 L776.6,572.7Z M777.9,576.2 L779.8,575.2 L781.7,576.2 L779.8,577.2Z M781.1,573.6 L782.1,571.7 L783.0,573.6 L782.1,575.6Z M799.6,594.8 L800.5,593.1 L801.5,594.8 L800.5,596.4Z M804.0,602.8 L804.7,601.8 L805.3,602.8 L804.7,603.8Z M833.6,603.1 L835.6,601.9 L837.5,603.1 L835.6,604.3Z M838.1,599.1 L839.7,598.3 L841.3,599.1 L839.7,599.9Z M853.7,701.8 L854.7,701.1 L855.6,701.8 L854.7,702.5Z M575.1,555.1 L576.1,554.4 L577.0,555.1 L576.1,555.7Z M582.7,550.3 L583.7,548.7 L584.7,550.3 L583.7,551.9Z M578.3,542.3 L579.2,541.0 L580.2,542.3 L579.2,543.6Z M696.1,565.3 L697.0,563.7 L698.0,565.3 L697.0,566.9Z M670.0,556.3 L671.6,555.4 L673.2,556.3 L671.6,557.3Z M686.5,569.4 L687.5,568.2 L688.5,569.4 L687.5,570.7Z M751.8,556.6 L754.4,555.7 L756.9,556.6 L754.4,557.6Z M761.4,565.3 L763.3,563.4 L765.2,565.3 L763.3,567.2Z M735.3,552.2 L736.8,551.5 L738.4,552.2 L736.8,552.8Z M78.9,503.1 L79.4,502.5 L79.8,503.1 L79.4,503.7Z M502.5,532.1 L502.8,530.8 L503.1,532.1 L502.8,533.4Z M62.3,436.7 L62.8,436.4 L63.3,436.7 L62.8,437.1Z M186.7,415.3 L187.6,414.9 L188.6,415.3 L187.6,415.8Z M177.7,412.5 L178.7,411.9 L179.6,412.5 L178.7,413.1Z M213.9,435.2 L214.7,434.8 L215.5,435.2 L214.7,435.7Z M250.3,596.8 L250.7,596.4 L251.0,596.8 L250.7,597.1Z M388.4,715.0 L388.8,714.5 L389.3,715.0 L388.8,715.4Z M487.9,726.4 L490.1,724.5 L492.3,726.4 L490.1,728.4Z M148.1,752.2 L151.0,750.5 L153.9,752.2 L151.0,753.8Z M183.9,773.3 L184.4,771.0 L184.9,773.3 L184.4,775.8Z M774.4,753.8 L774.7,752.2 L775.1,753.8 L774.7,755.5Z M796.7,733.3 L797.3,732.3 L798.0,733.3 L797.3,734.3Z M807.1,742.6 L807.5,742.0 L808.0,742.6 L807.5,743.1Z M122.3,789.6 L123.9,788.6 L125.5,789.6 L123.9,790.5Z M74.6,801.6 L77.8,800.2 L80.9,801.6 L77.8,803.0Z" fill="#212121" stroke="#565656" stroke-width="0.7" stroke-linejoin="round"/>
<path d="M418.4,384.7 L424.8,377.9 L432.8,375.6 L437.6,377.9 L436.0,383.4 L431.2,387.0 L429.0,387.9 L431.2,393.6 L436.0,394.5 L436.6,400.0 L440.7,402.2 L439.1,408.4 L440.1,418.6 L434.4,419.7 L428.0,417.0 L424.8,412.9 L425.8,405.1 L420.7,394.5 L417.8,387.9Z M455.1,377.9 L461.4,378.8 L463.0,384.7 L458.2,390.1 L454.4,387.0Z M370.1,546.5 L376.4,544.5 L377.7,548.7 L374.5,553.8 L370.7,552.8Z M502.8,377.0 L510.8,376.5 L520.3,377.9 L518.7,380.2 L507.6,380.2 L503.8,382.5Z" fill="#141414" stroke="#4a4a4a" stroke-width="0.7"/>
<path d="M41.8,507.7 L38.0,511.9 L38.0,516.7 L39.6,522.5 L45.9,523.2 L53.9,525.7 L54.5,534.4 L55.5,541.7 M55.5,541.7 L58.7,542.3 L63.4,539.1 L65.0,532.8 L69.8,532.8 L75.5,528.9 L73.6,526.4 L77.8,518.3 M75.5,528.9 L78.4,531.2 L77.8,537.5 L82.5,541.4 L87.3,539.1 L92.1,538.2 L95.3,538.2 L101.6,538.2 L104.2,532.8 M87.3,539.1 L86.4,534.4 L86.7,526.4 M95.3,538.2 L96.9,534.4 L96.9,527.0 M55.5,541.7 L47.5,542.3 L47.5,547.1 L45.9,551.9 L45.9,558.9 L39.6,553.5 L34.8,550.3 L29.0,545.8 L23.6,544.5 L17.9,541.0 M29.0,545.8 L28.4,550.3 L22.0,555.1 L18.9,559.8 L13.1,556.3 M45.9,558.9 L37.0,561.4 L33.8,568.8 L38.0,575.9 L44.3,575.9 L44.0,580.7 L47.5,580.7 L49.7,585.6 L49.1,593.8 L47.5,602.1 L45.0,604.8 M47.5,580.7 L52.3,579.8 L60.6,576.9 L61.8,584.0 L71.4,588.2 L77.1,589.5 L77.8,597.8 L83.2,598.1 L84.1,602.1 L85.4,604.4 L84.1,609.8 L79.4,608.1 L71.4,612.2 L69.2,618.0 L63.4,618.0 L58.7,616.6 L54.8,620.1 L52.3,613.9 L50.7,607.1 L47.5,602.1 M54.8,620.1 L51.3,626.0 L50.7,634.8 L46.6,642.0 L45.0,651.3 L45.9,658.8 L44.3,668.5 L42.7,678.5 L40.5,688.8 L40.2,701.8 L39.6,715.4 L36.4,729.8 L38.6,737.4 L49.1,741.0 L50.7,742.6 M84.1,609.8 L84.1,617.3 L90.5,618.4 L92.1,624.2 L95.9,624.2 L95.0,629.9 L97.8,632.0 L97.5,635.5 L91.1,639.5 L85.4,646.4 L90.5,648.6 L96.9,652.7 L98.8,659.6 M69.2,618.0 L74.6,623.5 L82.5,628.4 L85.1,628.8 L82.2,635.5 L90.5,635.9 L95.0,629.9 M85.4,646.4 L83.5,655.0 L82.9,660.7 M50.4,743.6 L50.4,755.5 M261.8,426.0 L263.4,432.2 L265.0,437.1 L257.7,441.6 L251.3,446.0 L241.1,450.1 L241.1,454.0 L226.8,453.7 M241.1,454.0 L241.1,459.7 L230.6,459.7 L230.6,468.5 L227.4,470.2 L227.4,476.1 L214.7,476.1 M241.1,455.1 L253.5,463.3 L272.6,476.8 L272.6,478.1 L279.0,483.5 L282.2,483.5 L287.3,482.2 L307.0,468.5 L300.3,464.0 L298.7,458.3 L300.3,451.5 L299.0,444.6 L297.5,437.9 L292.7,431.1 L295.2,426.4 L296.2,419.0 M253.5,463.3 L248.1,463.3 L251.3,492.2 L251.9,495.5 L234.1,496.9 L232.2,495.2 L230.0,497.9 L225.8,493.6 L222.6,491.9 L216.9,493.6 M299.0,444.6 L301.6,439.0 L305.4,433.3 M307.0,468.5 L314.0,471.6 L316.6,470.2 L345.2,482.2 L345.2,480.5 L348.4,480.5 L348.4,473.7 L348.4,439.4 M348.4,473.7 L368.5,473.7 L377.1,473.7 L386.3,473.7 M316.6,470.2 L318.2,477.1 L318.2,491.2 L312.1,501.5 L307.0,503.1 L297.5,504.4 L291.1,503.8 L283.1,501.5 L280.3,508.0 M282.2,483.5 L282.2,492.2 L279.9,495.5 L272.0,497.2 L269.4,497.2 L272.0,502.8 L276.4,506.0 L280.3,508.0 M269.4,497.2 L262.4,499.8 L256.1,502.4 L251.3,507.7 L251.3,512.2 M230.0,497.9 L232.5,505.7 L237.0,506.0 L241.7,508.6 L243.3,512.9 L251.3,512.2 L259.9,514.1 L259.9,510.3 L268.8,510.3 L271.7,510.3 L276.4,506.0 M232.5,505.7 L225.2,505.1 L215.6,505.7 M215.6,501.8 L221.0,501.1 L224.9,502.4 L221.0,503.1 L215.6,503.4 M226.5,516.1 L233.8,513.5 L235.4,518.3 L236.0,519.0 L241.7,521.2 L243.3,512.9 M236.0,519.0 L232.2,523.5 M241.7,521.2 L244.9,531.5 M259.9,529.6 L259.2,523.2 L260.2,515.1 L259.9,510.3 M272.6,526.0 L270.4,521.6 L270.4,515.1 L268.8,510.3 M273.9,525.7 L273.9,516.7 L271.7,510.3 M277.4,525.1 L277.7,516.7 L280.3,508.0 M295.9,530.5 L298.4,524.8 L303.8,524.1 L308.6,518.3 L312.1,510.9 L315.0,505.4 L312.1,501.5 M315.0,505.4 L316.6,513.5 L312.7,513.5 L318.2,521.6 L327.7,519.9 L329.3,516.7 L337.3,512.5 L341.7,510.6 M345.2,482.2 L345.2,494.9 L341.7,495.5 L340.4,500.5 L338.8,504.7 L341.7,510.6 L344.3,517.7 L349.0,520.6 L356.0,529.2 M318.2,521.6 L315.0,526.4 L315.0,531.2 L320.4,538.5 M300.0,538.2 L304.8,538.5 L311.1,538.5 L320.4,538.5 L321.3,534.4 L328.0,534.4 L328.0,531.8 L340.1,532.4 L346.8,529.6 L356.0,529.2 M304.8,538.5 L304.8,542.3 L299.4,542.3 M311.1,538.5 L314.6,541.4 L313.4,547.1 L315.0,551.5 L310.2,553.1 L306.4,556.6 L304.1,557.9 M328.0,534.4 L325.5,543.9 L320.4,551.9 L319.4,558.2 L315.0,561.1 L310.2,560.2 L307.6,564.0 M344.3,517.7 L348.4,512.5 L357.6,514.8 L362.7,513.5 L367.5,514.1 L371.6,508.0 L374.5,506.4 L374.2,510.9 L377.1,515.1 L378.0,511.2 L380.2,505.4 L384.1,505.1 L385.0,499.5 L385.0,497.2 L386.6,490.6 L391.4,487.2 M385.0,499.5 L389.8,498.2 L396.2,498.8 L403.8,505.4 L406.0,504.7 M403.8,505.4 L401.9,510.3 L405.1,510.6 L407.3,515.1 L412.1,517.7 L418.4,519.9 L421.6,519.9 L412.1,529.6 L402.5,532.1 L399.3,533.1 L394.6,534.4 L389.8,534.0 L383.4,531.5 L380.2,528.0 L375.5,519.9 L377.1,515.1 M401.9,510.3 L406.3,509.0 M383.4,531.5 L377.1,532.1 L373.9,533.4 L367.5,533.7 L366.9,534.4 L362.7,531.2 L356.0,529.2 M399.3,533.1 L399.3,548.0 L400.9,550.9 M377.1,532.1 L380.2,539.8 L377.1,545.5 L377.1,548.7 L388.8,555.4 L393.6,560.5 M366.9,534.4 L367.5,538.2 L363.7,543.0 L363.0,550.0 L365.9,548.7 L377.1,548.7 M363.0,550.0 L361.1,554.1 L362.1,559.5 L362.7,564.6 L366.5,571.7 L373.6,575.6 L377.1,575.9 M365.9,548.7 L366.9,553.1 L364.3,559.5 L362.1,559.5 M361.1,554.1 L365.9,553.1 M379.0,582.4 L388.2,583.0 L397.4,579.1 M377.1,575.9 L379.0,582.4 L379.9,588.9 L383.1,593.5 L382.8,597.1 L380.9,600.8 L378.0,597.8 L378.3,592.2 L373.9,590.5 L372.9,589.2 L374.8,582.7 L373.9,576.2 M366.5,571.7 L360.8,572.7 L359.2,575.2 L359.9,584.0 L363.7,584.6 L363.7,588.6 L359.2,585.6 L355.4,582.7 L349.4,581.4 L345.2,580.7 L339.5,581.1 L338.2,568.8 L330.9,567.8 L329.3,571.1 L324.8,571.4 L321.7,564.3 L310.2,564.3 L308.0,564.6 M345.2,580.7 L345.2,587.2 L338.8,587.2 L338.8,597.8 L343.3,602.4 M306.4,601.1 L313.4,601.8 L327.7,601.8 L343.3,602.4 L349.0,603.1 M335.7,604.8 L335.7,617.3 L332.5,617.3 L332.5,627.0 L332.5,639.9 L324.5,640.9 L321.3,640.6 M332.5,627.0 L335.0,634.1 L342.0,628.8 L350.0,630.2 L354.8,623.2 L362.4,618.0 L368.5,618.7 M349.0,603.1 L351.6,608.8 L357.0,612.2 L362.4,618.0 M349.0,603.1 L354.8,603.8 L360.8,597.1 L365.6,595.8 L373.6,599.4 L373.9,605.4 L372.9,612.2 L368.5,618.7 L370.7,626.0 L370.4,630.9 L373.6,634.1 M365.6,595.8 L365.0,593.1 L373.9,590.5 M354.8,644.2 L359.9,640.6 L362.4,643.9 L359.2,647.9 L356.0,646.8 L354.8,644.2 M367.5,630.2 L370.7,631.3 L371.0,634.1 L368.5,635.9 L366.9,633.8 L367.5,630.2 M240.8,398.3 L242.7,397.9 L248.1,398.3 L246.8,402.2 L246.5,407.6 L244.9,408.0 L246.5,413.7 L245.2,417.8 M263.1,391.8 L271.0,394.9 L274.2,395.8 L279.0,396.2 M292.7,390.1 L291.1,387.9 L290.8,383.8 L291.1,380.7 L288.2,379.3 L290.8,373.7 L293.0,372.8 L293.0,368.5 L294.9,366.1 L290.1,365.1 L289.2,363.6 L287.3,363.6 L284.1,361.2 L282.2,361.2 L279.0,357.2 L276.8,355.6 M279.6,354.1 L282.5,354.1 L284.7,353.6 L287.3,355.1 L286.9,357.2 L287.9,357.2 L288.5,360.2 L288.2,360.7 L289.2,363.6 M287.9,357.2 L287.9,352.1 L290.5,351.0 L291.1,347.9 L291.7,344.7 M296.2,335.5 L300.3,336.1 M314.0,341.0 L314.6,344.7 L313.7,346.9 L315.6,350.5 L316.6,356.1 L314.3,356.1 L308.0,359.7 L308.6,361.6 L312.7,367.0 L310.2,369.4 L310.2,373.2 L307.6,372.8 L302.2,373.2 L299.4,373.2 L296.2,372.3 L293.0,372.8 M291.1,380.7 L295.5,378.4 L297.5,380.7 L298.4,378.4 L301.9,377.4 L307.6,375.6 L308.3,377.0 L312.4,377.9 L312.1,381.1 L312.4,382.0 M299.4,373.2 L299.4,375.6 L301.9,377.4 M312.4,377.9 L316.6,377.4 L320.1,376.5 L321.3,373.2 L323.2,370.9 M312.7,367.0 L316.6,366.1 L322.6,367.5 L323.2,370.9 L328.7,371.8 L332.5,369.9 L339.2,368.9 M316.6,356.1 L320.7,358.2 L322.6,359.7 L326.1,361.2 L328.7,363.6 L332.5,365.1 L335.7,364.1 L340.4,365.6 L345.2,358.7 L343.9,353.6 L343.9,347.9 L344.9,341.0 M322.6,367.5 L326.1,366.1 L328.7,363.6 M331.2,338.3 L341.4,338.3 L343.6,340.5 L344.9,341.0 L350.9,338.8 L353.5,331.0 M335.7,328.8 L346.8,327.6 L353.5,331.0 L358.6,328.2 L357.3,321.8 L356.0,320.6 L356.0,317.7 L358.6,309.1 M335.7,333.3 L341.4,335.0 L341.4,338.3 M346.2,318.3 L351.6,318.9 L356.0,320.6 M358.6,328.2 L366.9,331.6 L367.5,337.7 L372.9,343.7 L368.5,345.3 L370.1,350.5 L378.3,352.1 L382.2,359.2 L389.8,361.2 L396.5,363.1 L395.5,370.9 L390.7,374.6 M343.9,353.6 L354.8,353.6 L365.9,354.6 L370.1,350.5 M340.4,365.6 L339.2,368.9 L341.7,370.9 L348.1,372.3 L353.5,369.4 L358.0,369.4 L363.7,378.4 L364.3,378.4 M353.5,369.4 L358.3,379.3 L358.6,382.5 L363.4,383.4 M339.2,368.9 L335.7,379.3 L333.4,379.7 L329.0,380.7 L321.7,378.4 L320.1,376.5 M333.4,379.7 L337.3,385.6 L341.1,388.3 L345.2,390.5 L354.8,388.8 L359.9,390.5 M341.1,388.3 L340.1,394.5 L340.1,396.6 L342.0,400.9 L346.8,400.0 L352.5,400.9 L352.9,399.2 L358.0,397.9 M352.5,400.9 L351.6,403.0 M332.5,407.6 L335.0,402.6 L342.0,400.9 M330.6,398.3 L334.1,397.0 L334.1,400.9 L335.0,402.6 M334.1,397.0 L333.4,394.5 L337.3,392.7 L338.2,396.6 L340.1,396.6 M327.7,395.8 L330.3,392.3 L333.4,394.5 M319.1,383.8 L322.9,383.8 L329.3,384.7 L330.6,387.9 L330.9,391.4 L327.7,395.8 L324.8,393.6 L319.7,388.3 L319.1,383.8 M312.4,382.5 L317.5,382.5 L321.7,378.4 M329.3,384.7 L329.3,380.7 M383.4,422.5 L385.7,419.3 L389.8,419.3 L398.4,418.2 L403.8,417.8 L411.4,417.8 L410.5,407.6 M400.9,400.0 L407.3,401.7 L407.9,405.5 L410.5,407.6 L416.9,410.9 L421.6,408.4 L424.5,412.9 M396.2,391.8 L404.1,392.7 L410.5,394.9 L416.9,398.8 L421.0,401.3 L423.5,398.8 M407.3,401.7 L412.1,401.3 L416.9,398.8 M412.1,401.3 L416.9,408.4 L416.9,410.9 M383.1,428.0 L385.3,429.5 L382.8,433.0 L382.2,435.2 L381.8,439.7 L380.2,447.1 M380.6,433.7 L382.8,433.0 M377.7,440.5 L379.9,447.1 M382.8,435.2 L386.0,436.7 L392.3,432.6 L399.3,428.7 L400.3,420.5 L403.8,417.8 M392.3,432.6 L393.6,437.1 L386.6,439.7 L389.8,443.5 L388.2,445.3 L383.4,448.2 L380.2,447.1 M393.6,437.1 L397.4,438.3 L402.5,441.2 L411.1,448.2 L416.9,448.6 L420.7,444.9 L421.6,445.4 M416.9,448.6 L420.0,450.8 L422.9,450.8 M411.4,417.8 L415.3,423.3 L413.7,428.4 L415.9,433.3 L421.0,438.6 L420.7,442.0 L423.2,445.3 M405.1,492.6 L406.3,489.2 L412.7,489.2 L418.4,490.6 L424.8,485.2 L434.4,483.9 L443.9,480.5 L445.8,473.7 L444.6,471.3 L436.0,470.6 L433.1,466.1 M434.4,483.9 L437.9,491.9 M444.6,471.3 L447.1,466.1 L448.4,463.6 M430.5,464.3 L431.8,464.7 M440.4,417.4 L447.1,414.5 L451.2,413.7 L457.6,416.6 L463.7,420.1 L461.8,429.1 L462.4,439.7 L465.6,441.6 L462.7,445.7 L468.8,455.5 L470.0,457.6 L464.9,462.6 M462.7,445.7 L472.6,447.5 L479.9,445.7 L482.1,440.5 L489.5,438.3 L491.7,432.2 L494.9,430.3 L496.5,422.5 L506.0,418.6 M463.7,420.1 L474.2,421.3 L480.5,417.0 L485.3,418.6 L491.7,416.2 L496.5,419.3 L506.0,417.8 M480.5,417.0 L475.8,410.5 L466.2,401.3 L459.8,401.3 L455.4,394.9 L450.3,400.9 L447.1,400.9 L447.1,384.7 L455.4,382.0 L463.0,387.9 L466.2,391.4 L475.4,390.5 L479.3,393.6 L478.9,397.9 L485.3,402.2 L494.5,396.6 L502.8,393.6 L507.6,394.0 L520.3,394.5 L524.2,397.0 L513.3,402.6 L504.4,405.9 L503.5,408.4 L507.6,416.6 L506.0,417.8 M447.1,400.9 L445.2,400.9 L440.7,396.6 L436.0,398.8 M484.7,408.0 L491.7,405.5 L503.5,408.4 M485.3,402.2 L493.3,400.5 L498.0,402.6 L491.7,405.5 M484.7,408.0 L485.9,414.5 L485.3,418.6 M424.8,377.9 L418.4,370.9 L421.6,361.2 L431.2,352.6 L443.9,356.1 L455.4,356.1 L464.6,345.8 L463.0,340.5 L475.8,338.3 L488.5,333.3 L494.9,339.9 L502.8,340.5 L513.3,338.3 L516.8,344.2 L523.5,357.2 L533.1,356.1 L540.1,363.1 L546.8,365.6 M546.8,365.6 L542.6,368.5 L541.7,374.2 L533.1,374.6 L530.8,382.5 L525.1,384.7 L524.2,397.0 M546.8,365.6 L554.4,362.6 L561.7,357.7 L571.3,361.2 L580.8,358.7 L581.8,351.0 L593.6,354.1 L594.5,358.2 L609.5,361.2 L622.2,364.1 L632.7,359.7 L640.4,362.1 M546.8,365.6 L550.6,369.9 L558.2,383.4 L572.6,388.3 L575.7,394.9 L592.6,395.8 L603.1,399.6 L616.8,396.2 L625.1,390.5 L625.1,384.7 L636.9,382.9 L649.9,377.4 L643.9,372.3 L636.6,371.3 L640.4,362.1 M640.4,362.1 L648.7,359.7 L653.1,348.4 L662.3,343.1 L670.0,346.9 L674.8,360.2 L684.6,366.5 L685.9,372.3 L698.0,369.4 L692.9,384.7 L686.9,389.2 L686.9,393.6 L684.6,396.2 L676.4,397.9 L672.8,398.8 L664.6,406.3 M672.2,415.3 L677.6,412.1 M612.7,475.4 L608.5,473.7 L604.1,469.2 L596.8,472.0 L593.9,472.3 L592.6,476.4 L591.0,475.0 L587.2,475.4 L584.0,473.7 L583.7,469.5 L579.6,466.8 L583.1,460.1 L582.7,454.0 L578.9,451.5 L574.5,447.5 L568.1,449.0 L561.7,453.3 L560.5,453.3 L552.2,455.1 L551.5,452.6 L542.6,452.6 L534.7,448.2 L527.3,444.2 L520.3,440.9 L519.7,436.0 L521.9,428.4 L517.2,424.5 L510.8,421.7 L506.0,417.8 M527.3,444.2 L523.8,449.7 L531.5,454.4 L539.4,457.2 L549.3,458.0 L551.5,452.6 M552.2,455.1 L554.7,457.2 L561.7,456.5 L561.7,453.3 M485.9,467.8 L494.9,465.0 L491.7,456.2 L498.0,450.8 L504.4,443.5 L506.0,434.9 L503.8,428.4 L514.0,425.3 M552.2,474.4 L551.9,469.5 L549.6,465.0 L549.6,459.7 L554.7,459.7 L554.7,462.2 L562.7,462.9 L562.4,465.7 L559.5,466.8 L559.8,470.2 L562.7,468.5 L563.6,474.0 L562.7,477.8 M563.6,474.0 L565.5,470.2 L570.3,463.3 L571.9,458.0 L577.6,454.4 L578.9,451.5 M591.0,475.0 L587.2,479.1 L580.8,481.5 L579.2,485.6 L583.1,492.9 L581.5,497.2 L584.7,503.8 L584.7,507.7 L582.7,512.9 M587.2,479.1 L588.8,482.2 L591.0,482.2 L590.4,488.2 L593.9,486.9 L597.7,485.9 L602.2,489.2 L602.5,492.9 L604.7,495.5 L604.7,498.8 L596.8,499.5 L594.8,501.8 L596.4,508.0 M601.5,512.2 L603.8,510.3 L606.3,510.3 L611.1,506.0 L611.1,498.2 L611.1,493.9 L607.9,490.6 L603.1,485.6 L599.9,482.2 L603.1,479.1 L596.8,477.8 L593.9,472.3 M604.7,498.8 L611.1,498.2 M587.5,525.1 L590.4,527.0 L593.9,525.7 M617.8,539.1 L620.6,542.6 L625.4,541.0 L630.8,541.4 L634.3,539.1 L636.6,534.4 L638.1,531.8 L643.2,532.1 M717.7,553.8 L717.7,574.6 M666.5,574.3 L667.1,575.9 M4.5,381.1 L-0.2,377.9 L-17.8,370.9 M30.0,384.7 L41.1,384.7 L45.0,378.8 L48.5,373.7 L52.9,375.1 L52.9,381.6 L55.5,385.6 M25.9,388.3 L30.0,384.7 M16.9,392.3 L17.6,394.0 M87.0,353.6 L87.0,351.0 L65.0,351.0 L55.5,335.0 L65.0,326.5 L63.4,305.3 M40.5,481.5 L40.2,487.2" fill="none" stroke="#444444" stroke-width="0.85" stroke-linejoin="round"/>
<path d="M2.9,399.2 L7.7,400.0 L14.1,397.0 L17.6,394.5 L15.7,394.0 L9.3,395.3 L4.5,397.0Z M14.7,392.3 L20.4,391.8 L25.9,391.0 L25.9,388.3 L22.0,389.2 L16.6,389.6Z M-1.2,380.2 L2.9,380.2 L7.7,380.7 L14.1,380.7 L14.1,385.6 L9.9,386.1 L8.7,392.3 L6.1,393.6 L2.9,390.1 L2.9,384.7 L-1.2,381.6Z M-17.8,368.5 L-5.0,367.0 L-0.2,375.6 L-1.8,377.9 L-8.2,377.9 L-17.8,377.0Z M-11.4,380.2 L-1.8,380.2 L-3.4,389.2 L-6.6,397.9 L-10.8,399.2 L-10.8,389.2Z" fill="#141414" stroke="#4a4a4a" stroke-width="0.6"/>
<path d="M6.4,903.1 L19.2,888.7 L32.0,874.3 L41.7,855.1 L51.3,842.2 L57.7,832.6 L70.5,819.8 L83.3,810.2 L94.5,807.0 L76.9,824.6 L74.3,842.2 L76.9,874.3 L76.9,899.9 L73.1,915.9 L92.9,932.0 L112.1,951.2 L128.2,960.2 L137.8,956.0 L155.4,960.8 L166.6,944.8 L184.2,928.8 L189.0,906.3 L198.7,906.3 L208.3,890.3 L230.7,877.5 L243.5,867.9 L265.9,859.9 L288.4,864.7 L314.0,859.9 L346.0,866.3 L374.9,851.9 L390.9,861.5 L400.5,851.9 L426.1,837.4 L442.2,828.8 L455.0,837.4 L470.0,842.2 L490.4,843.8 L504.9,861.5 L519.3,848.7 L536.9,834.2 L556.1,834.2 L573.7,823.0 L597.8,824.6 L617.0,835.8 L629.8,827.8 L645.8,835.8 L668.3,832.6 L681.1,837.4 L684.3,831.0 L700.3,830.1 L732.3,839.0 L742.0,848.7 L758.0,849.3 L780.4,861.5 L796.4,871.1 L812.5,879.1 L809.2,898.3 L796.4,906.3 L788.4,922.3 L786.8,941.6 L791.6,954.4 L799.6,948.0 L822.1,949.6 L850.9,959.2 L873.3,964.0 L894.2,968.8 L911.8,951.2 L918.2,944.8" fill="none" stroke="#5e5e5e" stroke-width="0.8" stroke-linejoin="round"/>
<g fill="#000"><circle cx="536.1" cy="453.2" r="6.50"/><circle cx="519.0" cy="472.9" r="26.00"/><circle cx="113.8" cy="585.3" r="21.00"/><circle cx="266.8" cy="351.3" r="14.55"/><circle cx="378.2" cy="411.8" r="14.35"/><circle cx="277.3" cy="378.4" r="13.75"/><circle cx="441.3" cy="435.2" r="12.75"/><circle cx="305.5" cy="389.2" r="11.95"/><circle cx="259.6" cy="405.6" r="11.95"/><circle cx="35.5" cy="535.6" r="11.95"/><circle cx="64.4" cy="659.8" r="11.95"/><circle cx="632.8" cy="550.1" r="11.45"/><circle cx="301.0" cy="355.6" r="11.15"/><circle cx="332.8" cy="349.7" r="9.90"/><circle cx="372.7" cy="366.3" r="9.70"/><circle cx="343.8" cy="653.9" r="9.70"/><circle cx="594.0" cy="533.0" r="9.40"/><circle cx="655.8" cy="492.2" r="9.10"/><circle cx="407.5" cy="433.2" r="8.60"/><circle cx="591.6" cy="496.3" r="8.60"/><circle cx="37.5" cy="587.5" r="8.30"/><circle cx="286.5" cy="351.7" r="8.10"/><circle cx="349.9" cy="381.9" r="8.10"/><circle cx="556.9" cy="467.0" r="8.10"/><circle cx="49.7" cy="622.7" r="8.10"/><circle cx="317.8" cy="364.6" r="7.80"/><circle cx="707.9" cy="424.8" r="7.80"/><circle cx="380.2" cy="444.2" r="7.30"/><circle cx="482.2" cy="454.1" r="7.30"/><circle cx="283.9" cy="360.2" r="7.00"/><circle cx="335.2" cy="390.7" r="7.00"/><circle cx="316.4" cy="374.4" r="6.80"/><circle cx="244.5" cy="404.6" r="6.80"/><circle cx="246.4" cy="443.3" r="6.80"/><circle cx="26.7" cy="480.8" r="6.80"/><circle cx="605.6" cy="476.4" r="6.80"/><circle cx="331.3" cy="376.7" r="6.60"/><circle cx="491.6" cy="368.5" r="6.60"/><circle cx="358.9" cy="346.0" r="6.50"/><circle cx="295.6" cy="378.4" r="6.50"/><circle cx="348.0" cy="397.8" r="6.50"/><circle cx="408.9" cy="399.7" r="6.50"/><circle cx="422.9" cy="406.0" r="6.50"/><circle cx="300.0" cy="426.0" r="6.50"/><circle cx="339.1" cy="408.9" r="6.20"/><circle cx="385.0" cy="430.9" r="6.20"/><circle cx="386.6" cy="444.4" r="6.20"/><circle cx="411.1" cy="467.9" r="6.20"/><circle cx="440.9" cy="468.9" r="6.20"/><circle cx="382.2" cy="439.1" r="6.00"/><circle cx="526.0" cy="523.8" r="6.00"/><circle cx="678.1" cy="423.4" r="5.90"/><circle cx="347.3" cy="334.2" r="5.80"/><circle cx="298.4" cy="330.2" r="5.70"/><circle cx="245.4" cy="347.3" r="5.70"/><circle cx="332.2" cy="368.1" r="5.70"/><circle cx="360.5" cy="374.3" r="5.70"/><circle cx="597.3" cy="379.4" r="5.70"/><circle cx="47.3" cy="485.4" r="5.70"/><circle cx="12.5" cy="520.5" r="5.70"/><circle cx="64.4" cy="525.5" r="5.70"/><circle cx="20.4" cy="550.5" r="5.70"/><circle cx="420.3" cy="449.2" r="5.70"/><circle cx="575.3" cy="475.2" r="5.70"/><circle cx="62.2" cy="602.2" r="5.70"/><circle cx="83.2" cy="623.4" r="5.70"/><circle cx="90.3" cy="658.2" r="5.70"/><circle cx="325.3" cy="457.2" r="5.60"/><circle cx="360.5" cy="460.4" r="5.60"/><circle cx="393.3" cy="520.2" r="5.60"/><circle cx="315.5" cy="382.3" r="5.50"/><circle cx="322.3" cy="383.4" r="5.50"/><circle cx="352.6" cy="314.5" r="5.20"/><circle cx="348.6" cy="324.7" r="4.90"/><circle cx="338.5" cy="401.7" r="4.90"/><circle cx="333.5" cy="404.6" r="4.90"/><circle cx="411.5" cy="406.5" r="4.90"/><circle cx="5.9" cy="515.0" r="4.90"/><circle cx="448.8" cy="482.7" r="4.90"/><circle cx="293.8" cy="517.6" r="4.90"/><circle cx="391.6" cy="544.8" r="4.90"/><circle cx="599.7" cy="542.6" r="4.90"/><circle cx="326.5" cy="389.8" r="4.70"/><circle cx="473.7" cy="401.8" r="4.70"/><circle cx="508.8" cy="401.7" r="4.70"/><circle cx="349.7" cy="596.4" r="4.70"/><circle cx="274.1" cy="397.1" r="4.50"/><circle cx="277.9" cy="452.8" r="4.50"/><circle cx="422.0" cy="497.2" r="4.50"/><circle cx="408.1" cy="538.1" r="4.50"/><circle cx="374.0" cy="541.0" r="4.50"/><circle cx="378.1" cy="566.0" r="4.50"/><circle cx="344.7" cy="619.8" r="4.50"/><circle cx="293.0" cy="392.1" r="4.40"/><circle cx="309.2" cy="401.0" r="4.40"/><circle cx="316.0" cy="424.1" r="4.40"/><circle cx="374.0" cy="428.1" r="4.40"/><circle cx="392.0" cy="426.9" r="4.40"/><circle cx="478.0" cy="432.2" r="4.40"/><circle cx="39.1" cy="484.3" r="4.40"/><circle cx="23.1" cy="488.3" r="4.40"/><circle cx="74.0" cy="514.3" r="4.40"/><circle cx="82.2" cy="531.0" r="4.40"/><circle cx="431.5" cy="461.7" r="4.40"/><circle cx="391.0" cy="496.2" r="4.40"/><circle cx="404.1" cy="511.1" r="4.40"/><circle cx="253.0" cy="523.1" r="4.40"/><circle cx="267.1" cy="524.2" r="4.40"/><circle cx="277.2" cy="514.3" r="4.40"/><circle cx="338.1" cy="524.2" r="4.40"/><circle cx="367.0" cy="524.2" r="4.40"/><circle cx="308.1" cy="533.1" r="4.40"/><circle cx="269.2" cy="547.2" r="4.40"/><circle cx="291.0" cy="547.2" r="4.40"/><circle cx="308.1" cy="548.1" r="4.40"/><circle cx="321.0" cy="546.0" r="4.40"/><circle cx="344.3" cy="552.0" r="4.40"/><circle cx="596.0" cy="483.0" r="4.40"/><circle cx="602.2" cy="507.1" r="4.40"/><circle cx="654.1" cy="468.9" r="4.40"/><circle cx="634.1" cy="533.1" r="4.40"/><circle cx="327.2" cy="588.2" r="4.40"/><circle cx="377.2" cy="591.0" r="4.40"/><circle cx="391.0" cy="592.1" r="4.40"/><circle cx="408.2" cy="584.2" r="4.40"/><circle cx="366.0" cy="609.2" r="4.40"/><circle cx="324.3" cy="617.1" r="4.40"/><circle cx="418.1" cy="610.9" r="4.40"/><circle cx="453.2" cy="613.1" r="4.40"/><circle cx="369.3" cy="635.9" r="4.40"/><circle cx="360.9" cy="646.0" r="4.40"/><circle cx="694.7" cy="628.7" r="4.40"/><circle cx="817.9" cy="696.9" r="4.40"/><circle cx="501.0" cy="414.2" r="4.30"/><circle cx="73.0" cy="508.1" r="4.30"/><circle cx="92.1" cy="534.2" r="4.30"/><circle cx="195.9" cy="498.0" r="4.30"/><circle cx="236.0" cy="484.2" r="4.30"/><circle cx="263.1" cy="488.3" r="4.30"/><circle cx="302.1" cy="492.2" r="4.30"/><circle cx="329.2" cy="496.2" r="4.30"/><circle cx="363.1" cy="497.1" r="4.30"/><circle cx="266.0" cy="507.2" r="4.30"/><circle cx="234.2" cy="513.1" r="4.30"/><circle cx="231.8" cy="519.2" r="4.30"/><circle cx="239.2" cy="527.1" r="4.30"/><circle cx="273.3" cy="523.1" r="4.30"/><circle cx="303.1" cy="542.1" r="4.30"/><circle cx="364.1" cy="553.0" r="4.30"/><circle cx="364.1" cy="558.1" r="4.30"/><circle cx="447.3" cy="562.2" r="4.30"/><circle cx="557.2" cy="456.0" r="4.30"/><circle cx="669.0" cy="575.8" r="4.30"/><circle cx="724.0" cy="565.8" r="4.30"/><circle cx="779.1" cy="578.0" r="4.30"/><circle cx="800.8" cy="597.0" r="4.30"/><circle cx="837.0" cy="604.2" r="4.30"/><circle cx="867.0" cy="591.0" r="4.30"/><circle cx="858.0" cy="617.0" r="4.30"/><circle cx="698.2" cy="522.9" r="4.20"/><circle cx="748.0" cy="522.9" r="4.20"/><circle cx="808.9" cy="528.1" r="4.20"/><circle cx="910.9" cy="540.9" r="4.20"/><circle cx="289.2" cy="364.4" r="4.10"/><circle cx="585.9" cy="428.1" r="4.10"/><circle cx="21.0" cy="466.0" r="4.10"/><circle cx="71.0" cy="492.3" r="4.10"/><circle cx="73.4" cy="491.0" r="4.10"/><circle cx="74.0" cy="498.0" r="4.10"/><circle cx="76.3" cy="503.1" r="4.10"/><circle cx="81.1" cy="506.0" r="4.10"/><circle cx="222.0" cy="498.9" r="4.10"/><circle cx="223.2" cy="504.3" r="4.10"/><circle cx="223.2" cy="508.1" r="4.10"/><circle cx="432.8" cy="463.9" r="4.10"/><circle cx="503.0" cy="534.0" r="4.10"/><circle cx="301.3" cy="376.9" r="4.00"/><circle cx="330.9" cy="396.0" r="4.00"/><circle cx="336.8" cy="397.1" r="4.00"/><circle cx="73.6" cy="504.2" r="3.90"/></g>
<g><circle cx="536.1" cy="453.2" r="4.10" fill="#f5c55d" stroke="#fff" stroke-width="1.3"/><circle cx="519.0" cy="472.9" r="23.15" fill="#d94f4c" stroke="#fff" stroke-width="1.3"/><circle cx="113.8" cy="585.3" r="18.15" fill="#f07a4e" stroke="#fff" stroke-width="1.3"/><circle cx="266.8" cy="351.3" r="11.70" fill="#f8a852" stroke="#fff" stroke-width="1.3"/><circle cx="378.2" cy="411.8" r="11.50" fill="#f8a852" stroke="#fff" stroke-width="1.3"/><circle cx="277.3" cy="378.4" r="10.90" fill="#f8a852" stroke="#fff" stroke-width="1.3"/><circle cx="441.3" cy="435.2" r="9.90" fill="#f7b656" stroke="#fff" stroke-width="1.3"/><circle cx="305.5" cy="389.2" r="9.10" fill="#f7b656" stroke="#fff" stroke-width="1.3"/><circle cx="259.6" cy="405.6" r="9.10" fill="#f7b656" stroke="#fff" stroke-width="1.3"/><circle cx="35.5" cy="535.6" r="9.10" fill="#f7b656" stroke="#fff" stroke-width="1.3"/><circle cx="64.4" cy="659.8" r="9.10" fill="#f7b656" stroke="#fff" stroke-width="1.3"/><circle cx="632.8" cy="550.1" r="8.60" fill="#f7b656" stroke="#fff" stroke-width="1.3"/><circle cx="301.0" cy="355.6" r="8.30" fill="#f7b656" stroke="#fff" stroke-width="1.3"/><circle cx="332.8" cy="349.7" r="7.50" fill="#f6bf5a" stroke="#fff" stroke-width="1.3"/><circle cx="372.7" cy="366.3" r="7.30" fill="#f6bf5a" stroke="#fff" stroke-width="1.3"/><circle cx="343.8" cy="653.9" r="7.30" fill="#f6bf5a" stroke="#fff" stroke-width="1.3"/><circle cx="594.0" cy="533.0" r="7.00" fill="#f6bf5a" stroke="#fff" stroke-width="1.3"/><circle cx="655.8" cy="492.2" r="6.70" fill="#f6bf5a" stroke="#fff" stroke-width="1.3"/><circle cx="407.5" cy="433.2" r="6.20" fill="#f5c55d" stroke="#fff" stroke-width="1.3"/><circle cx="591.6" cy="496.3" r="6.20" fill="#f5c55d" stroke="#fff" stroke-width="1.3"/><circle cx="37.5" cy="587.5" r="5.90" fill="#f5c55d" stroke="#fff" stroke-width="1.3"/><circle cx="286.5" cy="351.7" r="5.70" fill="#f5c55d" stroke="#fff" stroke-width="1.3"/><circle cx="349.9" cy="381.9" r="5.70" fill="#f5c55d" stroke="#fff" stroke-width="1.3"/><circle cx="556.9" cy="467.0" r="5.70" fill="#f5c55d" stroke="#fff" stroke-width="1.3"/><circle cx="49.7" cy="622.7" r="5.70" fill="#f5c55d" stroke="#fff" stroke-width="1.3"/><circle cx="317.8" cy="364.6" r="5.40" fill="#f5c55d" stroke="#fff" stroke-width="1.3"/><circle cx="707.9" cy="424.8" r="5.40" fill="#f5c55d" stroke="#fff" stroke-width="1.3"/><circle cx="380.2" cy="444.2" r="4.90" fill="#f5c55d" stroke="#fff" stroke-width="1.3"/><circle cx="482.2" cy="454.1" r="4.90" fill="#f5c55d" stroke="#fff" stroke-width="1.3"/><circle cx="283.9" cy="360.2" r="4.60" fill="#f5c55d" stroke="#fff" stroke-width="1.3"/><circle cx="335.2" cy="390.7" r="4.60" fill="#f5c55d" stroke="#fff" stroke-width="1.3"/><circle cx="316.4" cy="374.4" r="4.40" fill="#f5c55d" stroke="#fff" stroke-width="1.3"/><circle cx="244.5" cy="404.6" r="4.40" fill="#f5c55d" stroke="#fff" stroke-width="1.3"/><circle cx="246.4" cy="443.3" r="4.40" fill="#f5c55d" stroke="#fff" stroke-width="1.3"/><circle cx="26.7" cy="480.8" r="4.40" fill="#f5c55d" stroke="#fff" stroke-width="1.3"/><circle cx="605.6" cy="476.4" r="4.40" fill="#f5c55d" stroke="#fff" stroke-width="1.3"/><circle cx="331.3" cy="376.7" r="4.20" fill="#f5c55d" stroke="#fff" stroke-width="1.3"/><circle cx="491.6" cy="368.5" r="4.20" fill="#f5c55d" stroke="#fff" stroke-width="1.3"/><circle cx="358.9" cy="346.0" r="4.10" fill="#f5c55d" stroke="#fff" stroke-width="1.3"/><circle cx="295.6" cy="378.4" r="4.10" fill="#f5c55d" stroke="#fff" stroke-width="1.3"/><circle cx="348.0" cy="397.8" r="4.10" fill="#f5c55d" stroke="#fff" stroke-width="1.3"/><circle cx="408.9" cy="399.7" r="4.10" fill="#f5c55d" stroke="#fff" stroke-width="1.3"/><circle cx="422.9" cy="406.0" r="4.10" fill="#f5c55d" stroke="#fff" stroke-width="1.3"/><circle cx="300.0" cy="426.0" r="4.10" fill="#f5c55d" stroke="#fff" stroke-width="1.3"/><circle cx="339.1" cy="408.9" r="3.80" fill="#f5c55d" stroke="#fff" stroke-width="1.3"/><circle cx="385.0" cy="430.9" r="3.80" fill="#f5c55d" stroke="#fff" stroke-width="1.3"/><circle cx="386.6" cy="444.4" r="3.80" fill="#f5c55d" stroke="#fff" stroke-width="1.3"/><circle cx="411.1" cy="467.9" r="3.80" fill="#f5c55d" stroke="#fff" stroke-width="1.3"/><circle cx="440.9" cy="468.9" r="3.80" fill="#f5c55d" stroke="#fff" stroke-width="1.3"/><circle cx="382.2" cy="439.1" r="3.60" fill="#f5c55d" stroke="#fff" stroke-width="1.3"/><circle cx="526.0" cy="523.8" r="3.60" fill="#f5c55d" stroke="#fff" stroke-width="1.3"/><circle cx="678.1" cy="423.4" r="3.50" fill="#f5c55d" stroke="#fff" stroke-width="1.3"/><circle cx="347.3" cy="334.2" r="3.40" fill="#f5c55d" stroke="#fff" stroke-width="1.3"/><circle cx="298.4" cy="330.2" r="3.30" fill="#f5c55d" stroke="#fff" stroke-width="1.3"/><circle cx="245.4" cy="347.3" r="3.30" fill="#f5c55d" stroke="#fff" stroke-width="1.3"/><circle cx="332.2" cy="368.1" r="3.30" fill="#f5c55d" stroke="#fff" stroke-width="1.3"/><circle cx="360.5" cy="374.3" r="3.30" fill="#f5c55d" stroke="#fff" stroke-width="1.3"/><circle cx="597.3" cy="379.4" r="3.30" fill="#f5c55d" stroke="#fff" stroke-width="1.3"/><circle cx="47.3" cy="485.4" r="3.30" fill="#f5c55d" stroke="#fff" stroke-width="1.3"/><circle cx="12.5" cy="520.5" r="3.30" fill="#f5c55d" stroke="#fff" stroke-width="1.3"/><circle cx="64.4" cy="525.5" r="3.30" fill="#f5c55d" stroke="#fff" stroke-width="1.3"/><circle cx="20.4" cy="550.5" r="3.30" fill="#f5c55d" stroke="#fff" stroke-width="1.3"/><circle cx="420.3" cy="449.2" r="3.30" fill="#f5c55d" stroke="#fff" stroke-width="1.3"/><circle cx="575.3" cy="475.2" r="3.30" fill="#f5c55d" stroke="#fff" stroke-width="1.3"/><circle cx="62.2" cy="602.2" r="3.30" fill="#f5c55d" stroke="#fff" stroke-width="1.3"/><circle cx="83.2" cy="623.4" r="3.30" fill="#f5c55d" stroke="#fff" stroke-width="1.3"/><circle cx="90.3" cy="658.2" r="3.30" fill="#f5c55d" stroke="#fff" stroke-width="1.3"/><circle cx="325.3" cy="457.2" r="3.20" fill="#f5c55d" stroke="#fff" stroke-width="1.3"/><circle cx="360.5" cy="460.4" r="3.20" fill="#f5c55d" stroke="#fff" stroke-width="1.3"/><circle cx="393.3" cy="520.2" r="3.20" fill="#f5c55d" stroke="#fff" stroke-width="1.3"/><circle cx="315.5" cy="382.3" r="3.10" fill="#f5c55d" stroke="#fff" stroke-width="1.3"/><circle cx="322.3" cy="383.4" r="3.10" fill="#f5c55d" stroke="#fff" stroke-width="1.3"/><circle cx="352.6" cy="314.5" r="2.80" fill="#f5c55d" stroke="#fff" stroke-width="1.3"/><circle cx="348.6" cy="324.7" r="2.50" fill="#f5c55d" stroke="#fff" stroke-width="1.3"/><circle cx="338.5" cy="401.7" r="2.50" fill="#f5c55d" stroke="#fff" stroke-width="1.3"/><circle cx="333.5" cy="404.6" r="2.50" fill="#f5c55d" stroke="#fff" stroke-width="1.3"/><circle cx="411.5" cy="406.5" r="2.50" fill="#f5c55d" stroke="#fff" stroke-width="1.3"/><circle cx="5.9" cy="515.0" r="2.50" fill="#f5c55d" stroke="#fff" stroke-width="1.3"/><circle cx="448.8" cy="482.7" r="2.50" fill="#f5c55d" stroke="#fff" stroke-width="1.3"/><circle cx="293.8" cy="517.6" r="2.50" fill="#f5c55d" stroke="#fff" stroke-width="1.3"/><circle cx="391.6" cy="544.8" r="2.50" fill="#f5c55d" stroke="#fff" stroke-width="1.3"/><circle cx="599.7" cy="542.6" r="2.50" fill="#f5c55d" stroke="#fff" stroke-width="1.3"/><circle cx="326.5" cy="389.8" r="2.30" fill="#f5c55d" stroke="#fff" stroke-width="1.3"/><circle cx="473.7" cy="401.8" r="2.30" fill="#f5c55d" stroke="#fff" stroke-width="1.3"/><circle cx="508.8" cy="401.7" r="2.30" fill="#f5c55d" stroke="#fff" stroke-width="1.3"/><circle cx="349.7" cy="596.4" r="2.30" fill="#f5c55d" stroke="#fff" stroke-width="1.3"/><circle cx="274.1" cy="397.1" r="2.02" fill="#f5c348" stroke="#fff" stroke-width="1.45"/><circle cx="277.9" cy="452.8" r="2.02" fill="#f5c348" stroke="#fff" stroke-width="1.45"/><circle cx="422.0" cy="497.2" r="2.02" fill="#f5c348" stroke="#fff" stroke-width="1.45"/><circle cx="408.1" cy="538.1" r="2.02" fill="#f5c348" stroke="#fff" stroke-width="1.45"/><circle cx="374.0" cy="541.0" r="2.02" fill="#f5c348" stroke="#fff" stroke-width="1.45"/><circle cx="378.1" cy="566.0" r="2.02" fill="#f5c348" stroke="#fff" stroke-width="1.45"/><circle cx="344.7" cy="619.8" r="2.02" fill="#f5c348" stroke="#fff" stroke-width="1.45"/><circle cx="293.0" cy="392.1" r="1.93" fill="#f5c348" stroke="#fff" stroke-width="1.45"/><circle cx="309.2" cy="401.0" r="1.93" fill="#f5c348" stroke="#fff" stroke-width="1.45"/><circle cx="316.0" cy="424.1" r="1.93" fill="#f5c348" stroke="#fff" stroke-width="1.45"/><circle cx="374.0" cy="428.1" r="1.93" fill="#f5c348" stroke="#fff" stroke-width="1.45"/><circle cx="392.0" cy="426.9" r="1.93" fill="#f5c348" stroke="#fff" stroke-width="1.45"/><circle cx="478.0" cy="432.2" r="1.93" fill="#f5c348" stroke="#fff" stroke-width="1.45"/><circle cx="39.1" cy="484.3" r="1.93" fill="#f5c348" stroke="#fff" stroke-width="1.45"/><circle cx="23.1" cy="488.3" r="1.93" fill="#f5c348" stroke="#fff" stroke-width="1.45"/><circle cx="74.0" cy="514.3" r="1.93" fill="#f5c348" stroke="#fff" stroke-width="1.45"/><circle cx="82.2" cy="531.0" r="1.93" fill="#f5c348" stroke="#fff" stroke-width="1.45"/><circle cx="431.5" cy="461.7" r="1.93" fill="#f5c348" stroke="#fff" stroke-width="1.45"/><circle cx="391.0" cy="496.2" r="1.93" fill="#f5c348" stroke="#fff" stroke-width="1.45"/><circle cx="404.1" cy="511.1" r="1.93" fill="#f5c348" stroke="#fff" stroke-width="1.45"/><circle cx="253.0" cy="523.1" r="1.93" fill="#f5c348" stroke="#fff" stroke-width="1.45"/><circle cx="267.1" cy="524.2" r="1.93" fill="#f5c348" stroke="#fff" stroke-width="1.45"/><circle cx="277.2" cy="514.3" r="1.93" fill="#f5c348" stroke="#fff" stroke-width="1.45"/><circle cx="338.1" cy="524.2" r="1.93" fill="#f5c348" stroke="#fff" stroke-width="1.45"/><circle cx="367.0" cy="524.2" r="1.93" fill="#f5c348" stroke="#fff" stroke-width="1.45"/><circle cx="308.1" cy="533.1" r="1.93" fill="#f5c348" stroke="#fff" stroke-width="1.45"/><circle cx="269.2" cy="547.2" r="1.93" fill="#f5c348" stroke="#fff" stroke-width="1.45"/><circle cx="291.0" cy="547.2" r="1.93" fill="#f5c348" stroke="#fff" stroke-width="1.45"/><circle cx="308.1" cy="548.1" r="1.93" fill="#f5c348" stroke="#fff" stroke-width="1.45"/><circle cx="321.0" cy="546.0" r="1.93" fill="#f5c348" stroke="#fff" stroke-width="1.45"/><circle cx="344.3" cy="552.0" r="1.93" fill="#f5c348" stroke="#fff" stroke-width="1.45"/><circle cx="596.0" cy="483.0" r="1.93" fill="#f5c348" stroke="#fff" stroke-width="1.45"/><circle cx="602.2" cy="507.1" r="1.93" fill="#f5c348" stroke="#fff" stroke-width="1.45"/><circle cx="654.1" cy="468.9" r="1.93" fill="#f5c348" stroke="#fff" stroke-width="1.45"/><circle cx="634.1" cy="533.1" r="1.93" fill="#f5c348" stroke="#fff" stroke-width="1.45"/><circle cx="327.2" cy="588.2" r="1.93" fill="#f5c348" stroke="#fff" stroke-width="1.45"/><circle cx="377.2" cy="591.0" r="1.93" fill="#f5c348" stroke="#fff" stroke-width="1.45"/><circle cx="391.0" cy="592.1" r="1.93" fill="#f5c348" stroke="#fff" stroke-width="1.45"/><circle cx="408.2" cy="584.2" r="1.93" fill="#f5c348" stroke="#fff" stroke-width="1.45"/><circle cx="366.0" cy="609.2" r="1.93" fill="#f5c348" stroke="#fff" stroke-width="1.45"/><circle cx="324.3" cy="617.1" r="1.93" fill="#f5c348" stroke="#fff" stroke-width="1.45"/><circle cx="418.1" cy="610.9" r="1.93" fill="#f5c348" stroke="#fff" stroke-width="1.45"/><circle cx="453.2" cy="613.1" r="1.93" fill="#f5c348" stroke="#fff" stroke-width="1.45"/><circle cx="369.3" cy="635.9" r="1.93" fill="#f5c348" stroke="#fff" stroke-width="1.45"/><circle cx="360.9" cy="646.0" r="1.93" fill="#f5c348" stroke="#fff" stroke-width="1.45"/><circle cx="694.7" cy="628.7" r="1.93" fill="#f5c348" stroke="#fff" stroke-width="1.45"/><circle cx="817.9" cy="696.9" r="1.93" fill="#f5c348" stroke="#fff" stroke-width="1.45"/><circle cx="501.0" cy="414.2" r="1.82" fill="#f5c348" stroke="#fff" stroke-width="1.45"/><circle cx="73.0" cy="508.1" r="1.82" fill="#f5c348" stroke="#fff" stroke-width="1.45"/><circle cx="92.1" cy="534.2" r="1.82" fill="#f5c348" stroke="#fff" stroke-width="1.45"/><circle cx="195.9" cy="498.0" r="1.82" fill="#f5c348" stroke="#fff" stroke-width="1.45"/><circle cx="236.0" cy="484.2" r="1.82" fill="#f5c348" stroke="#fff" stroke-width="1.45"/><circle cx="263.1" cy="488.3" r="1.82" fill="#f5c348" stroke="#fff" stroke-width="1.45"/><circle cx="302.1" cy="492.2" r="1.82" fill="#f5c348" stroke="#fff" stroke-width="1.45"/><circle cx="329.2" cy="496.2" r="1.82" fill="#f5c348" stroke="#fff" stroke-width="1.45"/><circle cx="363.1" cy="497.1" r="1.82" fill="#f5c348" stroke="#fff" stroke-width="1.45"/><circle cx="266.0" cy="507.2" r="1.82" fill="#f5c348" stroke="#fff" stroke-width="1.45"/><circle cx="234.2" cy="513.1" r="1.82" fill="#f5c348" stroke="#fff" stroke-width="1.45"/><circle cx="231.8" cy="519.2" r="1.82" fill="#f5c348" stroke="#fff" stroke-width="1.45"/><circle cx="239.2" cy="527.1" r="1.82" fill="#f5c348" stroke="#fff" stroke-width="1.45"/><circle cx="273.3" cy="523.1" r="1.82" fill="#f5c348" stroke="#fff" stroke-width="1.45"/><circle cx="303.1" cy="542.1" r="1.82" fill="#f5c348" stroke="#fff" stroke-width="1.45"/><circle cx="364.1" cy="553.0" r="1.82" fill="#f5c348" stroke="#fff" stroke-width="1.45"/><circle cx="364.1" cy="558.1" r="1.82" fill="#f5c348" stroke="#fff" stroke-width="1.45"/><circle cx="447.3" cy="562.2" r="1.82" fill="#f5c348" stroke="#fff" stroke-width="1.45"/><circle cx="557.2" cy="456.0" r="1.82" fill="#f5c348" stroke="#fff" stroke-width="1.45"/><circle cx="669.0" cy="575.8" r="1.82" fill="#f5c348" stroke="#fff" stroke-width="1.45"/><circle cx="724.0" cy="565.8" r="1.82" fill="#f5c348" stroke="#fff" stroke-width="1.45"/><circle cx="779.1" cy="578.0" r="1.82" fill="#f5c348" stroke="#fff" stroke-width="1.45"/><circle cx="800.8" cy="597.0" r="1.82" fill="#f5c348" stroke="#fff" stroke-width="1.45"/><circle cx="837.0" cy="604.2" r="1.82" fill="#f5c348" stroke="#fff" stroke-width="1.45"/><circle cx="867.0" cy="591.0" r="1.82" fill="#f5c348" stroke="#fff" stroke-width="1.45"/><circle cx="858.0" cy="617.0" r="1.82" fill="#f5c348" stroke="#fff" stroke-width="1.45"/><circle cx="698.2" cy="522.9" r="1.73" fill="#f5c348" stroke="#fff" stroke-width="1.45"/><circle cx="748.0" cy="522.9" r="1.73" fill="#f5c348" stroke="#fff" stroke-width="1.45"/><circle cx="808.9" cy="528.1" r="1.73" fill="#f5c348" stroke="#fff" stroke-width="1.45"/><circle cx="910.9" cy="540.9" r="1.73" fill="#f5c348" stroke="#fff" stroke-width="1.45"/><circle cx="289.2" cy="364.4" r="1.62" fill="#f5c348" stroke="#fff" stroke-width="1.45"/><circle cx="585.9" cy="428.1" r="1.62" fill="#f5c348" stroke="#fff" stroke-width="1.45"/><circle cx="21.0" cy="466.0" r="1.62" fill="#f5c348" stroke="#fff" stroke-width="1.45"/><circle cx="71.0" cy="492.3" r="1.62" fill="#f5c348" stroke="#fff" stroke-width="1.45"/><circle cx="73.4" cy="491.0" r="1.62" fill="#f5c348" stroke="#fff" stroke-width="1.45"/><circle cx="74.0" cy="498.0" r="1.62" fill="#f5c348" stroke="#fff" stroke-width="1.45"/><circle cx="76.3" cy="503.1" r="1.62" fill="#f5c348" stroke="#fff" stroke-width="1.45"/><circle cx="81.1" cy="506.0" r="1.62" fill="#f5c348" stroke="#fff" stroke-width="1.45"/><circle cx="222.0" cy="498.9" r="1.62" fill="#f5c348" stroke="#fff" stroke-width="1.45"/><circle cx="223.2" cy="504.3" r="1.62" fill="#f5c348" stroke="#fff" stroke-width="1.45"/><circle cx="223.2" cy="508.1" r="1.62" fill="#f5c348" stroke="#fff" stroke-width="1.45"/><circle cx="432.8" cy="463.9" r="1.62" fill="#f5c348" stroke="#fff" stroke-width="1.45"/><circle cx="503.0" cy="534.0" r="1.62" fill="#f5c348" stroke="#fff" stroke-width="1.45"/><circle cx="301.3" cy="376.9" r="1.52" fill="#f5c348" stroke="#fff" stroke-width="1.45"/><circle cx="330.9" cy="396.0" r="1.52" fill="#f5c348" stroke="#fff" stroke-width="1.45"/><circle cx="336.8" cy="397.1" r="1.52" fill="#f5c348" stroke="#fff" stroke-width="1.45"/><circle cx="73.6" cy="504.2" r="1.43" fill="#f5c348" stroke="#fff" stroke-width="1.45"/></g>
<g><rect x="455.0" y="375.4" width="75.0" height="21.7" fill="#000"/><rect x="566.4" y="385.2" width="60.7" height="21.7" fill="#000"/><rect x="556.0" y="431.5" width="61.0" height="21.7" fill="#000"/><rect x="671.2" y="432.2" width="74.8" height="22.1" fill="#000"/><rect x="216.0" y="449.9" width="60.9" height="21.7" fill="#000"/><rect x="295.1" y="463.0" width="60.8" height="21.7" fill="#000"/><rect x="338.1" y="500.2" width="51.5" height="21.8" fill="#000"/><rect x="169.0" y="501.2" width="51.9" height="21.8" fill="#000"/><rect x="66.2" y="538.0" width="52.6" height="21.7" fill="#000"/><rect x="-0.2" y="556.4" width="51.2" height="21.7" fill="#000"/><rect x="219.0" y="530.3" width="43.2" height="21.7" fill="#000"/><rect x="281.3" y="552.7" width="52.6" height="21.7" fill="#000"/><rect x="420.0" y="566.5" width="52.4" height="21.7" fill="#000"/><rect x="477.6" y="538.0" width="52.2" height="21.7" fill="#000"/><rect x="619.0" y="501.2" width="74.6" height="22.2" fill="#000"/><rect x="692.4" y="527.9" width="12.6" height="21.9" fill="#000"/><rect x="742.5" y="527.9" width="12.5" height="21.9" fill="#000"/><rect x="803.6" y="532.9" width="12.6" height="21.9" fill="#000"/><rect x="904.8" y="545.1" width="12.5" height="22.1" fill="#000"/><rect x="699.0" y="568.6" width="51.8" height="21.8" fill="#000"/><rect x="644.0" y="580.3" width="52.2" height="21.7" fill="#000"/><rect x="770.1" y="581.4" width="21.0" height="22.2" fill="#000"/><rect x="795.1" y="600.4" width="12.4" height="21.8" fill="#000"/><rect x="861.2" y="595.0" width="12.5" height="22.2" fill="#000"/><rect x="852.2" y="620.5" width="12.9" height="21.7" fill="#000"/><rect x="665.0" y="632.8" width="61.0" height="22.0" fill="#000"/><rect x="797.6" y="701.5" width="43.5" height="22.2" fill="#000"/><rect x="427.5" y="617.7" width="52.5" height="22.1" fill="#000"/><rect x="27.6" y="671.7" width="74.7" height="21.7" fill="#000"/><rect x="307.6" y="664.2" width="74.8" height="21.9" fill="#000"/><text x="455.4" y="393.1" font-size="16" letter-spacing="-0.06" fill="#dedede">1,021,452</text><text x="566.9" y="402.8" font-size="16" letter-spacing="-0.06" fill="#dedede">361,338</text><text x="556.5" y="449.1" font-size="16" letter-spacing="-0.06" fill="#dedede">109,738</text><text x="671.7" y="450.2" font-size="16" letter-spacing="-0.06" fill="#dedede">1,723,645</text><text x="216.4" y="467.6" font-size="16" letter-spacing="-0.06" fill="#dedede">946,283</text><text x="295.6" y="480.6" font-size="16" letter-spacing="-0.06" fill="#dedede">357,964</text><text x="338.6" y="518.0" font-size="16" letter-spacing="-0.06" fill="#dedede">40,433</text><text x="169.4" y="519.0" font-size="16" letter-spacing="-0.06" fill="#dedede">38,218</text><text x="66.7" y="555.7" font-size="16" letter-spacing="-0.06" fill="#dedede">49,019</text><text x="0.2" y="574.1" font-size="16" letter-spacing="-0.06" fill="#dedede">15,859</text><text x="219.4" y="548.0" font-size="16" letter-spacing="-0.06" fill="#dedede">5,815</text><text x="281.8" y="570.4" font-size="16" letter-spacing="-0.06" fill="#dedede">35,525</text><text x="420.4" y="584.2" font-size="16" letter-spacing="-0.06" fill="#dedede">22,265</text><text x="478.1" y="555.7" font-size="16" letter-spacing="-0.06" fill="#dedede">87,915</text><text x="619.5" y="519.4" font-size="16" letter-spacing="-0.06" fill="#dedede">2,790,375</text><text x="692.9" y="545.8" font-size="16" letter-spacing="-0.06" fill="#dedede">8</text><text x="743.0" y="545.8" font-size="16" letter-spacing="-0.06" fill="#dedede">1</text><text x="804.1" y="550.8" font-size="16" letter-spacing="-0.06" fill="#dedede">4</text><text x="905.2" y="563.2" font-size="16" letter-spacing="-0.06" fill="#dedede">2</text><text x="699.5" y="586.4" font-size="16" letter-spacing="-0.06" fill="#dedede">29,813</text><text x="644.5" y="598.0" font-size="16" letter-spacing="-0.06" fill="#dedede">19,790</text><text x="770.6" y="599.6" font-size="16" letter-spacing="-0.06" fill="#dedede">20</text><text x="795.6" y="618.2" font-size="16" letter-spacing="-0.06" fill="#dedede">6</text><text x="861.7" y="613.2" font-size="16" letter-spacing="-0.06" fill="#dedede">3</text><text x="852.7" y="638.2" font-size="16" letter-spacing="-0.06" fill="#dedede">1</text><text x="665.5" y="650.8" font-size="16" letter-spacing="-0.06" fill="#dedede">173,165</text><text x="798.1" y="719.7" font-size="16" letter-spacing="-0.06" fill="#dedede">6,724</text><text x="427.9" y="635.8" font-size="16" letter-spacing="-0.06" fill="#dedede">17,812</text><text x="28.1" y="689.4" font-size="16" letter-spacing="-0.06" fill="#dedede">5,289,945</text><text x="308.1" y="682.1" font-size="16" letter-spacing="-0.06" fill="#dedede">2,922,222</text></g>
<rect x="10" y="983" width="222" height="18" fill="#1e1e2c"/>
<text x="14.5" y="997.3" font-size="13.7" fill="#f0f0f0">© 2021 Mapbox © OpenStreetMap</text>
</g>
<path d="M5,310H921V1006H5Z M6.1,311.1V1004H919V311.1Z" fill="#f6f6f6" fill-rule="evenodd"/>
</svg>
<div class="t " style="left:1226.2px;top:181.7px;font-size:19.6px;line-height:19.6px;letter-spacing:-0.21px;color:#fff;font-weight:bold;">Confirmed Cases Trend</div>
<svg id="trend" style="left:920px;top:215px" width="822" height="283" viewBox="920 215 822 283" font-family="Liberation Sans, sans-serif">
<rect x="929" y="215" width="813" height="280" fill="#555555"/>
<defs><pattern id="stripes" x="1081" y="0" width="5.4" height="10" patternUnits="userSpaceOnUse"><rect x="0" y="0" width="2.7" height="10" fill="#ffa030" fill-opacity="0.16"/></pattern></defs>
<polygon points="1081.2,494 1081.2,493.2 1112.0,491.8 1142.9,488.1 1163.5,486.0 1184.1,482.9 1204.7,478.8 1225.3,473.7 1245.8,468.5 1266.4,462.3 1287.0,456.2 1303.5,451.0 1317.9,443.8 1332.3,435.6 1348.8,424.3 1359.1,417.1 1373.5,407.8 1385.8,399.6 1393.6,393.9 1407.2,386.1 1426.7,377.3 1448.0,369.5 1467.5,359.8 1483.0,351.1 1494.7,342.3 1504.4,334.6 1516.1,324.3 1529.7,316.1 1545.2,308.3 1560.8,302.5 1580.2,295.1 1593.8,287.9 1609.4,279.2 1623.0,269.4 1638.6,259.7 1656.0,250.0 1671.6,242.2 1691.0,234.4 1705.6,228.2 1706.2,228.2 1706.2,494" fill="#ad7842"/>
<polygon points="1081.2,494 1081.2,493.2 1112.0,491.8 1142.9,488.1 1163.5,486.0 1184.1,482.9 1204.7,478.8 1225.3,473.7 1245.8,468.5 1266.4,462.3 1287.0,456.2 1303.5,451.0 1317.9,443.8 1332.3,435.6 1348.8,424.3 1359.1,417.1 1373.5,407.8 1385.8,399.6 1393.6,393.9 1407.2,386.1 1426.7,377.3 1448.0,369.5 1467.5,359.8 1483.0,351.1 1494.7,342.3 1504.4,334.6 1516.1,324.3 1529.7,316.1 1545.2,308.3 1560.8,302.5 1580.2,295.1 1593.8,287.9 1609.4,279.2 1623.0,269.4 1638.6,259.7 1656.0,250.0 1671.6,242.2 1691.0,234.4 1705.6,228.2 1706.2,228.2 1706.2,494" fill="url(#stripes)"/>
<polyline points="1081.2,493.2 1112.0,491.8 1142.9,488.1 1163.5,486.0 1184.1,482.9 1204.7,478.8 1225.3,473.7 1245.8,468.5 1266.4,462.3 1287.0,456.2 1303.5,451.0 1317.9,443.8 1332.3,435.6 1348.8,424.3 1359.1,417.1 1373.5,407.8 1385.8,399.6 1393.6,393.9 1407.2,386.1 1426.7,377.3 1448.0,369.5 1467.5,359.8 1483.0,351.1 1494.7,342.3 1504.4,334.6 1516.1,324.3 1529.7,316.1 1545.2,308.3 1560.8,302.5 1580.2,295.1 1593.8,287.9 1609.4,279.2 1623.0,269.4 1638.6,259.7 1656.0,250.0 1671.6,242.2 1691.0,234.4 1705.6,228.2 1706,228.2" fill="none" stroke="#e48d2d" stroke-width="1.4" stroke-linejoin="round"/>
<rect x="1704.6" y="228.4" width="1.7" height="266" fill="#d38633"/>
<rect x="979" y="215" width="1.3" height="280" fill="#f2f2f2"/>
<rect x="973" y="494" width="769" height="2" fill="#ffffff"/>
<rect x="973" y="223.7" width="6.5" height="1.8" fill="#f2f2f2"/>
<rect x="973" y="277.5" width="6.5" height="1.8" fill="#f2f2f2"/>
<rect x="973" y="331.3" width="6.5" height="1.8" fill="#f2f2f2"/>
<rect x="973" y="385.1" width="6.5" height="1.8" fill="#f2f2f2"/>
<rect x="973" y="438.9" width="6.5" height="1.8" fill="#f2f2f2"/>
<text x="970.3" y="232.7" text-anchor="end" font-size="15.6" fill="#f4f4f4" letter-spacing="0.2">250M</text>
<text x="970.3" y="284.8" text-anchor="end" font-size="15.6" fill="#f4f4f4" letter-spacing="0.2">200M</text>
<text x="970.3" y="338.6" text-anchor="end" font-size="15.6" fill="#f4f4f4" letter-spacing="0.2">150M</text>
<text x="970.3" y="392.4" text-anchor="end" font-size="15.6" fill="#f4f4f4" letter-spacing="0.2">100M</text>
<text x="970.3" y="447.5" text-anchor="end" font-size="15.6" fill="#f4f4f4" letter-spacing="0.2">50M</text>
<text x="970.3" y="489.7" text-anchor="end" font-size="15.6" fill="#f4f4f4" letter-spacing="0.2">0M</text>
</svg>
<div id="confirmed">
<div class="t" style="left:954.8px;top:529.7px;font-size:19.5px;line-height:19.5px;letter-spacing:-0.14px;color:#fff;font-weight:bold;">Top 10 Countries by Confirmed Cases</div>
<div style="position:absolute;left:1078.7px;top:569.2px;width:143.5px;height:32.5px;background:#c3c3c3"></div>
<div class="t" style="right:677.9px;top:580.3px;font-size:16px;line-height:16px;letter-spacing:-0.71px;color:#d9d9d9;">US</div>
<div class="t" style="left:1226.7px;top:578.9px;font-size:16.6px;line-height:16.6px;letter-spacing:0.42px;color:#e2e2e2;">46,091,924</div>
<div style="position:absolute;left:1078.7px;top:612.8px;width:106.7px;height:32.5px;background:#c3c3c3"></div>
<div class="t" style="right:676.6px;top:623.7px;font-size:16px;line-height:16px;letter-spacing:0.58px;color:#d9d9d9;">India</div>
<div class="t" style="left:1189.9px;top:622.5px;font-size:16.6px;line-height:16.6px;letter-spacing:0.47px;color:#e2e2e2;">34,285,814</div>
<div style="position:absolute;left:1078.7px;top:656.4px;width:67.9px;height:32.5px;background:#c3c3c3"></div>
<div class="t" style="right:676.6px;top:667.1px;font-size:16px;line-height:16px;letter-spacing:0.6px;color:#d9d9d9;">Brazil</div>
<div class="t" style="left:1151.1px;top:666.1px;font-size:16.6px;line-height:16.6px;letter-spacing:0.46px;color:#e2e2e2;">21,814,693</div>
<div style="position:absolute;left:1078.7px;top:700.0px;width:28.5px;height:32.5px;background:#c3c3c3"></div>
<div class="t" style="right:676.7px;top:710.5px;font-size:16px;line-height:16px;letter-spacing:0.55px;color:#d9d9d9;">United Kingdom</div>
<div class="t" style="left:1111.7px;top:709.7px;font-size:16.6px;line-height:16.6px;letter-spacing:0.5px;color:#e2e2e2;">9,140,441</div>
<div style="position:absolute;left:1078.7px;top:743.6px;width:26.2px;height:32.5px;background:#c3c3c3"></div>
<div class="t" style="right:677.0px;top:753.9px;font-size:16px;line-height:16px;letter-spacing:0.2px;color:#d9d9d9;">Russia</div>
<div class="t" style="left:1109.4px;top:753.3px;font-size:16.6px;line-height:16.6px;letter-spacing:0.48px;color:#e2e2e2;">8,417,305</div>
<div style="position:absolute;left:1078.7px;top:787.2px;width:25.1px;height:32.5px;background:#c3c3c3"></div>
<div class="t" style="right:676.6px;top:797.3px;font-size:16px;line-height:16px;letter-spacing:0.58px;color:#d9d9d9;">Turkey</div>
<div class="t" style="left:1108.3px;top:796.9px;font-size:16.6px;line-height:16.6px;letter-spacing:0.47px;color:#e2e2e2;">8,061,636</div>
<div style="position:absolute;left:1078.7px;top:830.8px;width:22.6px;height:32.5px;background:#c3c3c3"></div>
<div class="t" style="right:677.0px;top:840.7px;font-size:16px;line-height:16px;letter-spacing:0.25px;color:#d9d9d9;">France</div>
<div class="t" style="left:1105.8px;top:840.5px;font-size:16.6px;line-height:16.6px;letter-spacing:0.48px;color:#e2e2e2;">7,270,410</div>
<div style="position:absolute;left:1078.7px;top:874.4px;width:18.5px;height:32.5px;background:#c3c3c3"></div>
<div class="t" style="right:676.5px;top:884.1px;font-size:16px;line-height:16px;letter-spacing:0.71px;color:#d9d9d9;">Iran</div>
<div class="t" style="left:1101.7px;top:884.1px;font-size:16.6px;line-height:16.6px;letter-spacing:0.54px;color:#e2e2e2;">5,934,495</div>
<div style="position:absolute;left:1078.7px;top:918.0px;width:16.5px;height:32.5px;background:#c3c3c3"></div>
<div class="t" style="right:676.4px;top:927.5px;font-size:16px;line-height:16px;letter-spacing:0.83px;color:#d9d9d9;">Argentina</div>
<div class="t" style="left:1099.7px;top:927.7px;font-size:16.6px;line-height:16.6px;letter-spacing:0.5px;color:#e2e2e2;">5,289,945</div>
<div style="position:absolute;left:1078.7px;top:961.6px;width:15.6px;height:32.5px;background:#c3c3c3"></div>
<div class="t" style="right:676.9px;top:970.9px;font-size:16px;line-height:16px;letter-spacing:0.3px;color:#d9d9d9;">Spain</div>
<div class="t" style="left:1098.8px;top:971.3px;font-size:16.6px;line-height:16.6px;letter-spacing:0.6px;color:#e2e2e2;">5,011,148</div>
<div style="position:absolute;left:1079.0px;top:564.2px;width:1.3px;height:436.0px;background:#f0f0f0"></div>
<div style="position:absolute;left:1079.0px;top:997.6px;width:249.5px;height:2.4px;background:#ffffff"></div>
</div>
<div id="deaths">
<div class="t" style="left:1384.0px;top:529.7px;font-size:19.5px;line-height:19.5px;letter-spacing:-0.08px;color:#fff;font-weight:bold;">Top 10 Countries by Death Cases</div>
<div style="position:absolute;left:1488.0px;top:567.8px;width:166.0px;height:27.7px;background:#e15759"></div>
<div class="t" style="right:268.8px;top:575.0px;font-size:16px;line-height:16px;letter-spacing:-0.61px;color:#fff;-webkit-text-stroke:0.25px #fff;">US</div>
<div class="t" style="left:1659.1px;top:574.1px;font-size:16.4px;line-height:16.4px;letter-spacing:0.55px;color:#fff;-webkit-text-stroke:0.25px #fff;">747,033</div>
<div style="position:absolute;left:1488.0px;top:604.0px;width:135.3px;height:27.7px;background:#e15759"></div>
<div class="t" style="right:267.5px;top:611.1px;font-size:16px;line-height:16px;letter-spacing:0.72px;color:#fff;-webkit-text-stroke:0.25px #fff;">Brazil</div>
<div class="t" style="left:1628.4px;top:610.3px;font-size:16.4px;line-height:16.4px;letter-spacing:0.66px;color:#fff;-webkit-text-stroke:0.25px #fff;">607,922</div>
<div style="position:absolute;left:1488.0px;top:640.3px;width:102.2px;height:27.7px;background:#e15759"></div>
<div class="t" style="right:267.5px;top:647.3px;font-size:16px;line-height:16px;letter-spacing:0.72px;color:#fff;-webkit-text-stroke:0.25px #fff;">India</div>
<div class="t" style="left:1595.3px;top:646.4px;font-size:16.4px;line-height:16.4px;letter-spacing:0.52px;color:#fff;-webkit-text-stroke:0.25px #fff;">458,437</div>
<div style="position:absolute;left:1488.0px;top:676.5px;width:64.6px;height:27.7px;background:#e15759"></div>
<div class="t" style="right:267.7px;top:683.4px;font-size:16px;line-height:16px;letter-spacing:0.54px;color:#fff;-webkit-text-stroke:0.25px #fff;">Mexico</div>
<div class="t" style="left:1557.7px;top:682.6px;font-size:16.4px;line-height:16.4px;letter-spacing:0.41px;color:#fff;-webkit-text-stroke:0.25px #fff;">288,365</div>
<div style="position:absolute;left:1488.0px;top:712.7px;width:52.9px;height:27.7px;background:#e15759"></div>
<div class="t" style="right:267.9px;top:719.6px;font-size:16px;line-height:16px;letter-spacing:0.32px;color:#fff;-webkit-text-stroke:0.25px #fff;">Russia</div>
<div class="t" style="left:1546.0px;top:718.8px;font-size:16.4px;line-height:16.4px;letter-spacing:0.51px;color:#fff;-webkit-text-stroke:0.25px #fff;">235,318</div>
<div style="position:absolute;left:1488.0px;top:748.9px;width:45.1px;height:27.7px;background:#e15759"></div>
<div class="t" style="right:267.8px;top:755.8px;font-size:16px;line-height:16px;letter-spacing:0.43px;color:#fff;-webkit-text-stroke:0.25px #fff;">Peru</div>
<div class="t" style="left:1538.2px;top:754.9px;font-size:16.4px;line-height:16.4px;letter-spacing:0.52px;color:#fff;-webkit-text-stroke:0.25px #fff;">200,276</div>
<div style="position:absolute;left:1488.0px;top:785.2px;width:32.5px;height:27.7px;background:#e15759"></div>
<div class="t" style="right:267.6px;top:791.9px;font-size:16px;line-height:16px;letter-spacing:0.6px;color:#fff;-webkit-text-stroke:0.25px #fff;">Indonesia</div>
<div class="t" style="left:1525.6px;top:791.1px;font-size:16.4px;line-height:16.4px;letter-spacing:0.53px;color:#fff;-webkit-text-stroke:0.25px #fff;">143,423</div>
<div style="position:absolute;left:1488.0px;top:821.4px;width:32.0px;height:27.7px;background:#e15759"></div>
<div class="t" style="right:267.6px;top:828.1px;font-size:16px;line-height:16px;letter-spacing:0.61px;color:#fff;-webkit-text-stroke:0.25px #fff;">United Kingdom</div>
<div class="t" style="left:1525.1px;top:827.2px;font-size:16.4px;line-height:16.4px;letter-spacing:0.43px;color:#fff;-webkit-text-stroke:0.25px #fff;">141,098</div>
<div style="position:absolute;left:1488.0px;top:857.6px;width:30.0px;height:27.7px;background:#e15759"></div>
<div class="t" style="right:267.0px;top:864.2px;font-size:16px;line-height:16px;letter-spacing:1.23px;color:#fff;-webkit-text-stroke:0.25px #fff;">Italy</div>
<div class="t" style="left:1523.1px;top:863.4px;font-size:16.4px;line-height:16.4px;letter-spacing:0.54px;color:#fff;-webkit-text-stroke:0.25px #fff;">132,120</div>
<div style="position:absolute;left:1488.0px;top:893.9px;width:29.0px;height:27.7px;background:#e15759"></div>
<div class="t" style="right:267.8px;top:900.4px;font-size:16px;line-height:16px;letter-spacing:0.45px;color:#fff;-webkit-text-stroke:0.25px #fff;">Colombia</div>
<div class="t" style="left:1522.1px;top:899.6px;font-size:16.4px;line-height:16.4px;letter-spacing:0.7px;color:#fff;-webkit-text-stroke:0.25px #fff;">127,311</div>
<div style="position:absolute;left:1488.0px;top:563.8px;width:1.2px;height:362.0px;background:#f0f0f0"></div>
<div style="position:absolute;left:1488.0px;top:924.6px;width:249.0px;height:1.6px;background:#ffffff"></div>
<div style="position:absolute;left:1487.0px;top:925.0px;width:1.0px;height:5.8px;background:#f0f0f0"></div>
<div style="position:absolute;left:1598.0px;top:925.0px;width:1.0px;height:5.8px;background:#f0f0f0"></div>
<div style="position:absolute;left:1709.0px;top:925.0px;width:1.0px;height:5.8px;background:#f0f0f0"></div>
<div class="t" style="left:1490.6px;top:939.4px;font-size:16px;line-height:16px;letter-spacing:0.4px;color:#fff;-webkit-text-stroke:0.25px #fff;">0K</div>
<div class="t" style="left:1579.3px;top:939.4px;font-size:16px;line-height:16px;letter-spacing:0.4px;color:#fff;-webkit-text-stroke:0.25px #fff;">500K</div>
<div class="t" style="right:14.7px;top:939.4px;font-size:16px;line-height:16px;letter-spacing:0.4px;color:#fff;-webkit-text-stroke:0.25px #fff;">1000K</div>
<div class="t" style="left:1585.2px;top:971.2px;font-size:15.5px;line-height:15.5px;letter-spacing:0.22px;color:#fff;font-weight:bold;">Deaths</div>
</div>
</body></html>
